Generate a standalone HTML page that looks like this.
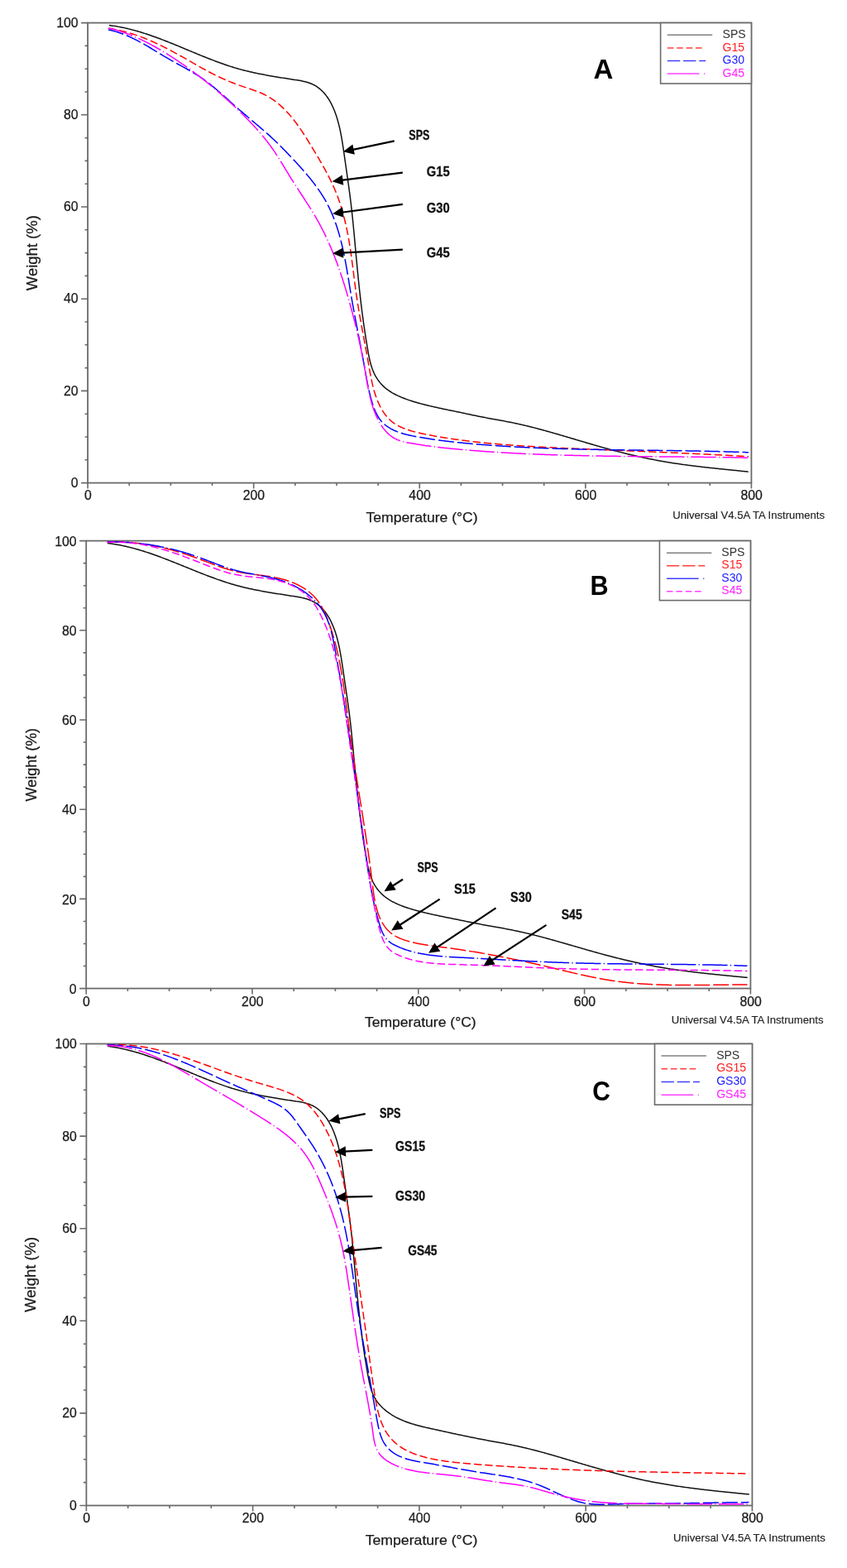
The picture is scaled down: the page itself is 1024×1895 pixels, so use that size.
<!DOCTYPE html>
<html><head><meta charset="utf-8"><title>TGA curves</title><style>
html,body{margin:0;padding:0;background:#fff;}
svg{display:block;}
text{font-family:'Liberation Sans', Arial, sans-serif;fill:#1a1a1a;}
.tl{font-size:15.8px;stroke:#1a1a1a;stroke-width:0.25px;}
.at{font-size:18px;stroke:#1a1a1a;stroke-width:0.25px;}
.tt{font-size:17px;stroke:#1a1a1a;stroke-width:0.25px;}
.ut{font-size:13.1px;fill:#222;stroke:#222;stroke-width:0.15px;}
.lg{font-size:14px;}
.big{font-size:33px;font-weight:bold;fill:#000;}
.an{font-size:16.4px;font-weight:bold;fill:#111;stroke:#111;stroke-width:0.3px;}
</style></head>
<body><svg width="1024" height="1895" viewBox="0 0 1024 1895">
<rect width="1024" height="1895" fill="#fff"/>
<path d="M98.1,583.6H106.1M102.6,555.8H106.1M102.6,528H106.1M102.6,500.2H106.1M98.1,472.4H106.1M102.6,444.6H106.1M102.6,416.8H106.1M102.6,389H106.1M98.1,361.2H106.1M102.6,333.4H106.1M102.6,305.6H106.1M102.6,277.8H106.1M98.1,250H106.1M102.6,222.2H106.1M102.6,194.4H106.1M102.6,166.6H106.1M98.1,138.8H106.1M102.6,111H106.1M102.6,83.2H106.1M102.6,55.4H106.1M98.1,27.6H106.1M106.1,583.6V590.6M156.24,583.6V587.1M206.39,583.6V587.1M256.53,583.6V587.1M306.67,583.6V590.6M356.82,583.6V587.1M406.96,583.6V587.1M457.11,583.6V587.1M507.25,583.6V590.6M557.39,583.6V587.1M607.54,583.6V587.1M657.68,583.6V587.1M707.83,583.6V590.6M757.97,583.6V587.1M808.11,583.6V587.1M858.26,583.6V587.1M908.4,583.6V590.6" stroke="#6a6a6a" stroke-width="1.6" fill="none"/>
<rect x="106.1" y="27.6" width="802.3" height="556" stroke="#6a6a6a" stroke-width="1.8" fill="none"/>
<text x="94.5" y="588.8" text-anchor="end" class="tl">0</text>
<text x="94.5" y="477.6" text-anchor="end" class="tl">20</text>
<text x="94.5" y="366.4" text-anchor="end" class="tl">40</text>
<text x="94.5" y="255.2" text-anchor="end" class="tl">60</text>
<text x="94.5" y="144" text-anchor="end" class="tl">80</text>
<text x="94.5" y="32.8" text-anchor="end" class="tl">100</text>
<text x="106.4" y="604.1" text-anchor="middle" class="tl">0</text>
<text x="306.97" y="604.1" text-anchor="middle" class="tl">200</text>
<text x="507.55" y="604.1" text-anchor="middle" class="tl">400</text>
<text x="708.12" y="604.1" text-anchor="middle" class="tl">600</text>
<text x="908.7" y="604.1" text-anchor="middle" class="tl">800</text>
<text transform="translate(44.8,351.2) rotate(-90)" class="at" textLength="91" lengthAdjust="spacingAndGlyphs">Weight (%)</text>
<text x="442.5" y="630.8" class="tt" textLength="135.2" lengthAdjust="spacingAndGlyphs">Temperature (°C)</text>
<text x="997" y="627" text-anchor="end" class="ut">Universal V4.5A TA Instruments</text>
<path d="M131.84,30.54 133.34,30.73 134.84,30.93 136.33,31.15 137.82,31.37 139.31,31.61 140.79,31.86 142.27,32.12 143.75,32.38 145.23,32.66 146.7,32.95 148.17,33.25 149.63,33.56 151.09,33.88 152.55,34.21 154.01,34.54 155.46,34.89 156.91,35.25 158.36,35.61 159.81,35.98 161.25,36.37 162.69,36.75 164.13,37.15 165.57,37.56 167,37.97 168.43,38.39 169.86,38.82 171.29,39.25 172.71,39.7 174.13,40.15 175.55,40.6 176.97,41.06 178.39,41.53 179.81,42.01 181.22,42.49 182.63,42.97 184.04,43.46 185.45,43.96 186.85,44.46 188.26,44.97 189.66,45.48 191.06,46 192.47,46.52 193.86,47.05 195.26,47.58 196.66,48.11 198.06,48.65 199.45,49.19 200.84,49.74 202.24,50.29 203.63,50.84 205.02,51.39 206.41,51.95 207.8,52.51 209.19,53.07 210.58,53.64 211.96,54.2 213.35,54.77 214.74,55.34 216.12,55.91 217.51,56.48 218.89,57.06 220.28,57.63 221.66,58.21 223.05,58.79 224.43,59.36 225.82,59.94 227.2,60.52 228.58,61.09 229.97,61.67 231.35,62.25 232.74,62.82 234.12,63.4 235.51,63.97 236.9,64.55 238.28,65.12 239.67,65.69 241.06,66.26 242.44,66.82 243.83,67.39 245.22,67.95 246.61,68.51 248,69.07 249.4,69.63 250.79,70.18 252.18,70.73 253.58,71.27 254.97,71.81 256.37,72.35 257.77,72.89 259.17,73.42 260.57,73.95 261.97,74.47 263.37,74.99 264.78,75.5 266.19,76.01 267.59,76.51 269,77.01 270.42,77.51 271.83,77.99 273.24,78.47 274.66,78.95 276.08,79.42 277.5,79.88 278.92,80.34 280.35,80.79 281.77,81.24 283.2,81.67 284.64,82.1 286.07,82.53 287.5,82.94 288.94,83.35 290.38,83.75 291.83,84.14 293.27,84.52 294.72,84.9 296.17,85.27 297.62,85.63 299.08,85.99 300.53,86.34 301.99,86.68 303.45,87.02 304.91,87.35 306.37,87.67 307.83,87.99 309.3,88.3 310.76,88.61 312.23,88.91 313.69,89.21 315.16,89.5 316.63,89.79 318.1,90.07 319.57,90.35 321.04,90.63 322.51,90.9 323.98,91.16 325.45,91.43 326.92,91.69 328.39,91.94 329.86,92.19 331.33,92.44 332.8,92.69 334.27,92.94 335.74,93.18 337.21,93.42 338.67,93.66 340.14,93.89 341.61,94.12 343.07,94.36 344.53,94.59 346,94.82 347.46,95.05 348.92,95.27 350.37,95.5 351.83,95.73 353.28,95.95 354.73,96.18 356.19,96.41 357.63,96.63 359.08,96.86 360.52,97.09 361.96,97.34 363.39,97.59 364.82,97.86 366.23,98.15 367.64,98.46 369.04,98.8 370.43,99.17 371.81,99.57 373.17,100.01 374.51,100.48 375.84,100.99 377.15,101.54 378.44,102.13 379.71,102.76 380.96,103.45 382.18,104.18 383.37,104.96 384.54,105.78 385.69,106.65 386.81,107.56 387.9,108.5 388.97,109.49 390,110.51 391.02,111.56 392,112.65 392.95,113.77 393.88,114.91 394.77,116.08 395.64,117.27 396.47,118.49 397.28,119.72 398.06,120.98 398.82,122.25 399.55,123.55 400.25,124.85 400.93,126.17 401.58,127.51 402.21,128.85 402.82,130.21 403.41,131.57 403.98,132.94 404.52,134.31 405.05,135.69 405.56,137.08 406.05,138.46 406.52,139.86 406.98,141.25 407.42,142.65 407.84,144.05 408.26,145.46 408.65,146.87 409.04,148.28 409.41,149.7 409.76,151.12 410.11,152.54 410.45,153.97 410.77,155.4 411.09,156.83 411.39,158.27 411.69,159.71 411.98,161.15 412.26,162.59 412.53,164.03 412.79,165.47 413.05,166.92 413.3,168.36 413.55,169.81 413.79,171.26 414.02,172.7 414.25,174.15 414.47,175.59 414.7,177.04 414.91,178.48 415.13,179.92 415.34,181.37 415.55,182.81 415.76,184.25 415.97,185.68 416.17,187.12 416.38,188.56 416.58,190 416.79,191.43 416.99,192.87 417.2,194.31 417.4,195.75 417.61,197.19 417.81,198.63 418.02,200.07 418.22,201.52 418.43,202.97 418.63,204.42 418.84,205.87 419.05,207.32 419.26,208.78 419.47,210.24 419.67,211.7 419.88,213.17 420.09,214.64 420.3,216.11 420.51,217.58 420.72,219.05 420.93,220.52 421.13,222 421.34,223.48 421.55,224.96 421.75,226.44 421.95,227.92 422.16,229.4 422.36,230.89 422.56,232.37 422.75,233.86 422.95,235.34 423.14,236.83 423.34,238.32 423.52,239.8 423.71,241.29 423.9,242.78 424.08,244.26 424.26,245.75 424.43,247.24 424.61,248.73 424.78,250.21 424.95,251.7 425.12,253.19 425.28,254.67 425.45,256.16 425.61,257.65 425.77,259.13 425.93,260.62 426.08,262.11 426.24,263.59 426.39,265.08 426.54,266.57 426.69,268.06 426.84,269.54 426.99,271.03 427.13,272.52 427.28,274 427.42,275.49 427.57,276.98 427.71,278.47 427.85,279.95 427.99,281.44 428.13,282.93 428.27,284.42 428.41,285.9 428.54,287.39 428.68,288.88 428.82,290.37 428.95,291.86 429.09,293.35 429.23,294.83 429.36,296.32 429.5,297.81 429.63,299.3 429.77,300.79 429.91,302.28 430.04,303.77 430.18,305.26 430.32,306.75 430.45,308.24 430.59,309.73 430.73,311.22 430.87,312.71 431.01,314.2 431.15,315.69 431.29,317.18 431.43,318.68 431.57,320.17 431.71,321.66 431.86,323.15 432,324.64 432.14,326.13 432.29,327.62 432.43,329.11 432.58,330.6 432.73,332.09 432.88,333.58 433.03,335.08 433.18,336.57 433.33,338.06 433.48,339.55 433.63,341.04 433.79,342.53 433.94,344.02 434.1,345.51 434.26,347 434.42,348.49 434.58,349.97 434.74,351.46 434.9,352.95 435.06,354.44 435.23,355.93 435.4,357.42 435.57,358.91 435.74,360.39 435.91,361.88 436.08,363.37 436.26,364.85 436.43,366.34 436.61,367.83 436.79,369.31 436.97,370.8 437.16,372.28 437.34,373.77 437.53,375.25 437.72,376.73 437.91,378.22 438.1,379.7 438.29,381.18 438.49,382.66 438.69,384.15 438.89,385.63 439.09,387.11 439.3,388.59 439.5,390.07 439.71,391.54 439.92,393.02 440.14,394.5 440.35,395.98 440.57,397.46 440.79,398.93 441.01,400.41 441.24,401.89 441.46,403.37 441.69,404.84 441.92,406.32 442.16,407.8 442.39,409.28 442.63,410.76 442.87,412.24 443.11,413.73 443.35,415.21 443.6,416.69 443.84,418.18 444.09,419.67 444.35,421.16 444.6,422.65 444.86,424.14 445.12,425.63 445.39,427.12 445.66,428.61 445.95,430.09 446.24,431.58 446.55,433.06 446.88,434.53 447.22,436 447.58,437.46 447.96,438.91 448.35,440.35 448.78,441.79 449.22,443.21 449.69,444.62 450.19,446.02 450.72,447.41 451.28,448.78 451.87,450.14 452.49,451.48 453.15,452.81 453.83,454.11 454.55,455.4 455.31,456.66 456.09,457.9 456.92,459.12 457.77,460.31 458.66,461.48 459.59,462.61 460.55,463.73 461.55,464.81 462.57,465.86 463.64,466.88 464.73,467.88 465.85,468.85 467,469.79 468.18,470.69 469.38,471.58 470.6,472.43 471.85,473.25 473.13,474.05 474.42,474.82 475.73,475.56 477.05,476.28 478.4,476.98 479.76,477.66 481.13,478.31 482.51,478.94 483.9,479.55 485.3,480.15 486.71,480.72 488.13,481.28 489.55,481.82 490.97,482.35 492.39,482.86 493.82,483.36 495.25,483.85 496.69,484.32 498.12,484.78 499.56,485.23 501,485.66 502.44,486.09 503.88,486.51 505.32,486.92 506.76,487.32 508.21,487.71 509.65,488.1 511.1,488.47 512.54,488.85 513.99,489.21 515.44,489.57 516.88,489.93 518.33,490.28 519.78,490.62 521.22,490.96 522.67,491.3 524.12,491.63 525.56,491.95 527.01,492.28 528.46,492.6 529.91,492.91 531.35,493.23 532.8,493.54 534.25,493.85 535.7,494.15 537.14,494.46 538.59,494.76 540.04,495.06 541.48,495.36 542.93,495.66 544.38,495.95 545.82,496.25 547.27,496.55 548.71,496.84 550.16,497.14 551.6,497.44 553.05,497.74 554.49,498.04 555.93,498.34 557.37,498.64 558.82,498.94 560.26,499.25 561.7,499.56 563.14,499.86 564.58,500.17 566.02,500.48 567.46,500.79 568.9,501.09 570.34,501.4 571.77,501.7 573.21,502 574.65,502.3 576.09,502.6 577.53,502.9 578.96,503.19 580.4,503.48 581.84,503.77 583.28,504.05 584.72,504.33 586.16,504.61 587.61,504.88 589.05,505.15 590.49,505.42 591.94,505.69 593.38,505.95 594.83,506.22 596.27,506.48 597.72,506.74 599.17,507 600.62,507.27 602.07,507.53 603.52,507.79 604.97,508.05 606.42,508.32 607.88,508.59 609.33,508.86 610.79,509.13 612.24,509.4 613.69,509.68 615.15,509.96 616.6,510.25 618.06,510.53 619.51,510.83 620.96,511.13 622.41,511.43 623.86,511.74 625.31,512.05 626.77,512.37 628.21,512.7 629.66,513.02 631.11,513.36 632.56,513.69 634.01,514.03 635.45,514.38 636.9,514.72 638.35,515.08 639.79,515.43 641.24,515.79 642.68,516.16 644.13,516.52 645.57,516.89 647.01,517.27 648.46,517.64 649.9,518.02 651.34,518.41 652.78,518.79 654.23,519.18 655.67,519.57 657.11,519.96 658.55,520.36 659.99,520.76 661.43,521.16 662.87,521.56 664.31,521.96 665.75,522.37 667.19,522.78 668.63,523.19 670.06,523.6 671.5,524.01 672.94,524.43 674.37,524.84 675.81,525.26 677.24,525.68 678.68,526.1 680.11,526.52 681.55,526.94 682.98,527.36 684.41,527.79 685.84,528.21 687.28,528.63 688.71,529.06 690.14,529.48 691.57,529.91 693,530.33 694.42,530.76 695.85,531.18 697.28,531.61 698.71,532.03 700.13,532.46 701.56,532.88 702.98,533.3 704.41,533.72 705.83,534.15 707.25,534.57 708.68,534.99 710.1,535.41 711.52,535.83 712.95,536.24 714.37,536.66 715.79,537.07 717.21,537.49 718.63,537.9 720.06,538.31 721.48,538.72 722.9,539.13 724.33,539.54 725.75,539.94 727.17,540.35 728.6,540.75 730.02,541.15 731.45,541.54 732.87,541.94 734.3,542.33 735.73,542.72 737.16,543.11 738.58,543.5 740.01,543.88 741.44,544.27 742.88,544.65 744.31,545.02 745.74,545.4 747.18,545.77 748.61,546.14 750.05,546.5 751.48,546.87 752.92,547.23 754.36,547.59 755.8,547.94 757.24,548.3 758.68,548.65 760.13,548.99 761.57,549.34 763.01,549.68 764.46,550.02 765.91,550.35 767.35,550.69 768.8,551.02 770.25,551.34 771.7,551.67 773.15,551.99 774.6,552.31 776.05,552.62 777.51,552.94 778.96,553.24 780.42,553.55 781.87,553.85 783.33,554.15 784.79,554.45 786.24,554.74 787.7,555.03 789.16,555.32 790.62,555.6 792.09,555.88 793.55,556.16 795.01,556.44 796.48,556.71 797.94,556.97 799.41,557.24 800.87,557.5 802.34,557.76 803.81,558.01 805.28,558.26 806.75,558.51 808.22,558.75 809.69,558.99 811.16,559.23 812.64,559.46 814.11,559.69 815.58,559.92 817.06,560.14 818.53,560.36 820.01,560.58 821.49,560.79 822.97,561 824.44,561.21 825.92,561.42 827.4,561.62 828.88,561.82 830.36,562.02 831.84,562.21 833.33,562.41 834.81,562.6 836.29,562.79 837.77,562.97 839.26,563.16 840.74,563.34 842.22,563.52 843.71,563.7 845.19,563.87 846.68,564.05 848.17,564.22 849.65,564.39 851.14,564.56 852.62,564.73 854.11,564.9 855.6,565.06 857.09,565.23 858.57,565.39 860.06,565.55 861.55,565.71 863.04,565.87 864.53,566.03 866.01,566.18 867.5,566.34 868.99,566.49 870.48,566.65 871.97,566.8 873.46,566.96 874.95,567.11 876.43,567.26 877.92,567.41 879.41,567.56 880.9,567.72 882.39,567.87 883.88,568.02 885.37,568.17 886.86,568.32 888.34,568.47 889.83,568.62 891.32,568.77 892.81,568.92 894.29,569.07 895.78,569.23 897.27,569.38 898.76,569.53 900.24,569.69 901.73,569.84 903.21,569.99 904.7,570.15" stroke="#111" stroke-width="1.5" fill="none"/>
<path d="M130.88,34.37 132.38,34.58 133.88,34.8 135.37,35.03 136.86,35.28 138.34,35.54 139.82,35.81 141.29,36.1 142.76,36.4 144.23,36.72 145.69,37.04 147.15,37.38 148.6,37.74 150.05,38.1 151.5,38.48 152.94,38.86 154.38,39.26 155.82,39.67 157.25,40.1 158.68,40.53 160.11,40.97 161.53,41.43 162.95,41.89 164.36,42.37 165.77,42.86 167.18,43.35 168.59,43.86 169.99,44.37 171.39,44.9 172.78,45.43 174.18,45.97 175.56,46.53 176.95,47.09 178.33,47.65 179.71,48.23 181.09,48.82 182.46,49.41 183.84,50.01 185.2,50.62 186.57,51.23 187.93,51.86 189.29,52.49 190.65,53.12 192,53.77 193.36,54.42 194.71,55.07 196.05,55.73 197.4,56.4 198.74,57.08 200.08,57.75 201.42,58.44 202.75,59.13 204.08,59.82 205.41,60.52 206.74,61.22 208.07,61.93 209.39,62.64 210.71,63.36 212.03,64.08 213.35,64.8 214.66,65.53 215.98,66.26 217.29,66.99 218.6,67.73 219.91,68.46 221.21,69.2 222.52,69.95 223.83,70.69 225.13,71.43 226.43,72.18 227.74,72.92 229.04,73.67 230.34,74.42 231.64,75.16 232.94,75.91 234.25,76.65 235.55,77.4 236.85,78.14 238.16,78.88 239.46,79.62 240.77,80.35 242.07,81.08 243.38,81.81 244.69,82.54 246,83.27 247.31,83.99 248.63,84.7 249.94,85.41 251.26,86.12 252.59,86.82 253.91,87.52 255.24,88.21 256.56,88.89 257.9,89.57 259.23,90.25 260.57,90.91 261.91,91.57 263.26,92.22 264.61,92.87 265.96,93.51 267.32,94.14 268.68,94.76 270.04,95.37 271.41,95.98 272.78,96.58 274.15,97.17 275.53,97.76 276.92,98.34 278.3,98.9 279.69,99.47 281.09,100.02 282.49,100.56 283.89,101.1 285.3,101.63 286.71,102.15 288.13,102.66 289.55,103.16 290.97,103.66 292.4,104.15 293.83,104.63 295.26,105.11 296.69,105.59 298.13,106.06 299.56,106.54 300.99,107.01 302.42,107.5 303.84,107.98 305.26,108.47 306.68,108.97 308.09,109.48 309.5,109.99 310.89,110.52 312.28,111.07 313.66,111.62 315.03,112.2 316.4,112.79 317.74,113.4 319.08,114.02 320.41,114.68 321.72,115.35 323.01,116.05 324.29,116.77 325.56,117.52 326.81,118.29 328.05,119.08 329.27,119.9 330.48,120.74 331.68,121.59 332.86,122.47 334.03,123.37 335.18,124.28 336.33,125.22 337.45,126.17 338.57,127.13 339.67,128.12 340.76,129.12 341.84,130.13 342.9,131.16 343.96,132.21 345,133.26 346.02,134.33 347.04,135.41 348.05,136.51 349.04,137.62 350.03,138.74 351,139.87 351.96,141.01 352.92,142.16 353.86,143.32 354.8,144.5 355.72,145.68 356.64,146.87 357.55,148.07 358.45,149.28 359.34,150.49 360.23,151.72 361.11,152.95 361.98,154.18 362.84,155.43 363.7,156.68 364.55,157.93 365.39,159.2 366.23,160.46 367.06,161.73 367.89,163.01 368.71,164.29 369.53,165.57 370.34,166.85 371.15,168.14 371.95,169.43 372.76,170.73 373.55,172.02 374.35,173.31 375.14,174.61 375.93,175.91 376.72,177.2 377.5,178.5 378.28,179.8 379.06,181.09 379.84,182.38 380.62,183.68 381.4,184.97 382.17,186.26 382.94,187.55 383.71,188.84 384.47,190.13 385.24,191.42 386,192.72 386.75,194.01 387.5,195.3 388.25,196.6 388.99,197.89 389.73,199.19 390.47,200.48 391.2,201.78 391.92,203.08 392.64,204.38 393.35,205.69 394.06,206.99 394.76,208.3 395.46,209.61 396.15,210.93 396.84,212.24 397.51,213.56 398.18,214.88 398.85,216.21 399.5,217.54 400.15,218.87 400.79,220.21 401.43,221.55 402.05,222.89 402.67,224.24 403.28,225.59 403.88,226.95 404.47,228.31 405.05,229.68 405.62,231.05 406.18,232.43 406.74,233.81 407.28,235.2 407.81,236.59 408.34,237.99 408.85,239.39 409.36,240.8 409.86,242.22 410.34,243.63 410.82,245.05 411.29,246.48 411.75,247.91 412.2,249.34 412.65,250.78 413.08,252.22 413.51,253.66 413.93,255.11 414.34,256.56 414.74,258.01 415.14,259.47 415.52,260.93 415.9,262.39 416.27,263.85 416.64,265.31 417,266.78 417.35,268.25 417.69,269.72 418.02,271.19 418.35,272.66 418.67,274.14 418.99,275.61 419.3,277.09 419.6,278.57 419.9,280.04 420.19,281.52 420.47,283 420.75,284.48 421.02,285.96 421.29,287.44 421.55,288.92 421.81,290.41 422.06,291.89 422.3,293.37 422.55,294.85 422.79,296.34 423.02,297.82 423.25,299.31 423.48,300.79 423.7,302.28 423.92,303.76 424.13,305.25 424.35,306.73 424.56,308.22 424.76,309.7 424.97,311.19 425.17,312.68 425.37,314.16 425.57,315.65 425.76,317.14 425.96,318.62 426.15,320.11 426.34,321.6 426.53,323.08 426.72,324.57 426.91,326.06 427.1,327.54 427.28,329.03 427.47,330.51 427.66,332 427.84,333.48 428.03,334.97 428.22,336.45 428.41,337.94 428.6,339.42 428.78,340.91 428.98,342.39 429.17,343.87 429.36,345.35 429.56,346.83 429.75,348.32 429.95,349.8 430.15,351.28 430.36,352.76 430.56,354.23 430.77,355.71 430.98,357.19 431.2,358.67 431.42,360.14 431.64,361.62 431.86,363.09 432.09,364.57 432.32,366.04 432.55,367.51 432.79,368.99 433.02,370.46 433.27,371.93 433.51,373.4 433.75,374.87 434,376.34 434.25,377.81 434.51,379.28 434.76,380.75 435.02,382.22 435.27,383.69 435.53,385.16 435.8,386.62 436.06,388.09 436.32,389.56 436.59,391.03 436.86,392.5 437.13,393.97 437.4,395.44 437.67,396.91 437.94,398.38 438.21,399.85 438.48,401.32 438.76,402.79 439.03,404.26 439.31,405.73 439.58,407.2 439.86,408.68 440.14,410.15 440.41,411.62 440.69,413.1 440.96,414.57 441.24,416.05 441.51,417.52 441.79,419 442.06,420.48 442.34,421.96 442.61,423.44 442.88,424.92 443.16,426.4 443.43,427.88 443.7,429.37 443.97,430.85 444.24,432.34 444.5,433.83 444.77,435.32 445.03,436.81 445.29,438.3 445.55,439.79 445.81,441.28 446.07,442.78 446.33,444.27 446.59,445.77 446.86,447.26 447.12,448.76 447.39,450.25 447.67,451.75 447.95,453.24 448.23,454.73 448.52,456.22 448.82,457.71 449.13,459.19 449.44,460.68 449.76,462.16 450.1,463.64 450.44,465.11 450.8,466.58 451.17,468.05 451.55,469.52 451.95,470.98 452.36,472.43 452.79,473.88 453.23,475.33 453.69,476.77 454.17,478.21 454.66,479.63 455.18,481.06 455.71,482.47 456.27,483.88 456.84,485.28 457.44,486.67 458.05,488.04 458.69,489.4 459.36,490.75 460.04,492.08 460.75,493.39 461.48,494.68 462.24,495.95 463.02,497.2 463.82,498.43 464.65,499.64 465.51,500.82 466.39,501.97 467.31,503.1 468.24,504.19 469.21,505.26 470.21,506.29 471.23,507.29 472.28,508.26 473.37,509.19 474.48,510.08 475.62,510.94 476.79,511.77 477.99,512.55 479.22,513.31 480.46,514.04 481.74,514.73 483.03,515.4 484.35,516.03 485.68,516.64 487.04,517.23 488.41,517.78 489.79,518.32 491.2,518.83 492.61,519.33 494.04,519.8 495.48,520.25 496.93,520.68 498.39,521.1 499.86,521.51 501.33,521.89 502.81,522.27 504.3,522.63 505.78,522.99 507.27,523.33 508.76,523.66 510.25,523.99 511.74,524.31 513.23,524.62 514.72,524.92 516.21,525.22 517.7,525.51 519.19,525.8 520.68,526.08 522.17,526.36 523.66,526.63 525.15,526.89 526.64,527.16 528.13,527.42 529.62,527.67 531.11,527.93 532.6,528.18 534.09,528.42 535.58,528.67 537.07,528.91 538.56,529.14 540.05,529.38 541.54,529.61 543.03,529.83 544.52,530.06 546.01,530.28 547.5,530.5 548.99,530.71 550.48,530.93 551.97,531.14 553.46,531.34 554.95,531.55 556.44,531.75 557.93,531.95 559.42,532.15 560.91,532.34 562.4,532.53 563.89,532.72 565.39,532.9 566.88,533.08 568.37,533.26 569.86,533.44 571.35,533.62 572.84,533.79 574.33,533.96 575.82,534.13 577.31,534.29 578.8,534.46 580.29,534.62 581.78,534.77 583.28,534.93 584.77,535.08 586.26,535.24 587.75,535.38 589.24,535.53 590.73,535.68 592.22,535.82 593.71,535.96 595.2,536.1 596.7,536.23 598.19,536.37 599.68,536.5 601.17,536.63 602.66,536.76 604.15,536.89 605.65,537.01 607.14,537.14 608.63,537.26 610.12,537.38 611.61,537.49 613.1,537.61 614.6,537.72 616.09,537.84 617.58,537.95 619.07,538.06 620.57,538.17 622.06,538.27 623.55,538.38 625.04,538.48 626.54,538.58 628.03,538.68 629.52,538.78 631.01,538.88 632.51,538.97 634,539.07 635.49,539.16 636.99,539.25 638.48,539.34 639.97,539.43 641.46,539.52 642.96,539.61 644.45,539.7 645.94,539.78 647.44,539.87 648.93,539.95 650.43,540.03 651.92,540.11 653.41,540.19 654.91,540.27 656.4,540.35 657.89,540.43 659.39,540.5 660.88,540.58 662.38,540.65 663.87,540.73 665.37,540.8 666.86,540.87 668.36,540.94 669.85,541.01 671.35,541.08 672.84,541.15 674.34,541.22 675.83,541.29 677.33,541.36 678.82,541.43 680.32,541.5 681.81,541.56 683.31,541.63 684.8,541.7 686.3,541.76 687.79,541.83 689.29,541.89 690.79,541.96 692.28,542.02 693.78,542.09 695.28,542.15 696.77,542.21 698.27,542.28 699.77,542.34 701.26,542.4 702.76,542.47 704.26,542.53 705.75,542.6 707.25,542.66 708.75,542.72 710.25,542.79 711.74,542.85 713.24,542.91 714.74,542.97 716.24,543.04 717.73,543.1 719.23,543.16 720.73,543.23 722.23,543.29 723.73,543.35 725.22,543.41 726.72,543.48 728.22,543.54 729.72,543.6 731.22,543.66 732.72,543.73 734.21,543.79 735.71,543.85 737.21,543.91 738.71,543.98 740.21,544.04 741.71,544.1 743.21,544.16 744.71,544.22 746.2,544.29 747.7,544.35 749.2,544.41 750.7,544.47 752.2,544.54 753.7,544.6 755.2,544.66 756.7,544.72 758.2,544.79 759.7,544.85 761.2,544.91 762.7,544.97 764.2,545.04 765.69,545.1 767.19,545.16 768.69,545.23 770.19,545.29 771.69,545.35 773.19,545.42 774.69,545.48 776.19,545.54 777.69,545.61 779.19,545.67 780.69,545.73 782.19,545.8 783.69,545.86 785.19,545.92 786.69,545.99 788.19,546.05 789.69,546.12 791.18,546.18 792.68,546.25 794.18,546.31 795.68,546.38 797.18,546.44 798.68,546.51 800.18,546.57 801.68,546.64 803.18,546.7 804.68,546.77 806.18,546.83 807.68,546.9 809.18,546.97 810.67,547.03 812.17,547.1 813.67,547.16 815.17,547.23 816.67,547.3 818.17,547.37 819.67,547.43 821.17,547.5 822.66,547.57 824.16,547.64 825.66,547.71 827.16,547.77 828.66,547.84 830.16,547.91 831.66,547.98 833.15,548.05 834.65,548.12 836.15,548.19 837.65,548.26 839.15,548.33 840.64,548.4 842.14,548.47 843.64,548.54 845.14,548.61 846.63,548.68 848.13,548.76 849.63,548.83 851.13,548.9 852.62,548.97 854.12,549.05 855.62,549.12 857.11,549.19 858.61,549.27 860.11,549.34 861.6,549.42 863.1,549.49 864.6,549.56 866.09,549.64 867.59,549.72 869.08,549.79 870.58,549.87 872.08,549.94 873.57,550.02 875.07,550.1 876.56,550.18 878.06,550.25 879.55,550.33 881.05,550.41 882.54,550.49 884.04,550.57 885.53,550.65 887.02,550.73 888.52,550.81 890.01,550.89 891.51,550.97 893,551.05 894.49,551.13 895.99,551.22 897.48,551.3 898.97,551.38 900.47,551.46 901.96,551.55 903.45,551.63 904.95,551.72" stroke="#ff0000" stroke-width="1.5" fill="none" stroke-dasharray="9.4 3.9"/>
<path d="M130.96,35.93 132.45,36.24 133.92,36.58 135.39,36.93 136.85,37.3 138.3,37.7 139.74,38.11 141.17,38.54 142.6,38.99 144.02,39.46 145.43,39.94 146.83,40.44 148.23,40.96 149.62,41.49 151,42.04 152.38,42.6 153.75,43.18 155.12,43.77 156.48,44.38 157.83,44.99 159.18,45.62 160.52,46.27 161.86,46.92 163.2,47.58 164.53,48.26 165.85,48.94 167.18,49.63 168.49,50.34 169.81,51.05 171.12,51.77 172.43,52.49 173.73,53.23 175.04,53.97 176.34,54.71 177.64,55.46 178.93,56.22 180.23,56.98 181.52,57.74 182.81,58.51 184.1,59.28 185.39,60.06 186.68,60.83 187.97,61.61 189.26,62.39 190.55,63.17 191.83,63.95 193.12,64.73 194.41,65.51 195.7,66.29 196.99,67.06 198.28,67.83 199.58,68.6 200.87,69.37 202.17,70.13 203.47,70.89 204.77,71.65 206.08,72.4 207.38,73.14 208.69,73.88 210,74.61 211.32,75.34 212.63,76.07 213.95,76.79 215.26,77.51 216.58,78.23 217.89,78.95 219.21,79.67 220.52,80.39 221.83,81.11 223.15,81.83 224.45,82.56 225.76,83.28 227.06,84.02 228.36,84.75 229.66,85.49 230.95,86.24 232.24,86.99 233.52,87.75 234.8,88.52 236.07,89.29 237.34,90.07 238.59,90.87 239.85,91.67 241.09,92.48 242.33,93.31 243.56,94.14 244.78,94.99 246,95.84 247.21,96.71 248.41,97.59 249.61,98.48 250.8,99.37 251.98,100.28 253.16,101.19 254.33,102.11 255.5,103.04 256.66,103.98 257.82,104.92 258.98,105.87 260.13,106.83 261.27,107.79 262.42,108.76 263.55,109.73 264.69,110.71 265.82,111.69 266.96,112.68 268.08,113.67 269.21,114.66 270.33,115.66 271.46,116.66 272.58,117.66 273.7,118.67 274.82,119.67 275.94,120.68 277.06,121.68 278.18,122.69 279.3,123.7 280.42,124.71 281.54,125.71 282.66,126.72 283.78,127.72 284.9,128.73 286.03,129.73 287.16,130.72 288.29,131.72 289.42,132.71 290.55,133.7 291.69,134.69 292.83,135.67 293.97,136.65 295.11,137.63 296.26,138.6 297.4,139.58 298.55,140.55 299.7,141.52 300.85,142.49 301.99,143.45 303.14,144.42 304.29,145.39 305.44,146.35 306.59,147.32 307.73,148.28 308.88,149.25 310.02,150.22 311.17,151.18 312.31,152.15 313.45,153.12 314.59,154.09 315.72,155.06 316.86,156.04 317.99,157.01 319.11,157.99 320.24,158.97 321.36,159.96 322.48,160.94 323.59,161.93 324.7,162.93 325.8,163.92 326.91,164.92 328,165.93 329.09,166.94 330.18,167.95 331.26,168.97 332.34,169.99 333.41,171.02 334.48,172.05 335.55,173.08 336.61,174.12 337.67,175.16 338.73,176.21 339.78,177.25 340.83,178.31 341.87,179.36 342.92,180.42 343.96,181.49 345,182.55 346.04,183.63 347.07,184.7 348.11,185.78 349.14,186.86 350.17,187.94 351.2,189.03 352.23,190.12 353.26,191.21 354.28,192.31 355.31,193.41 356.34,194.51 357.36,195.61 358.38,196.72 359.41,197.83 360.43,198.95 361.44,200.07 362.46,201.19 363.47,202.31 364.48,203.44 365.49,204.58 366.49,205.71 367.49,206.85 368.48,208 369.47,209.15 370.45,210.3 371.43,211.46 372.4,212.62 373.37,213.78 374.33,214.95 375.28,216.13 376.23,217.31 377.17,218.49 378.1,219.68 379.03,220.87 379.94,222.07 380.85,223.27 381.75,224.48 382.64,225.7 383.52,226.92 384.39,228.14 385.25,229.37 386.1,230.61 386.94,231.85 387.77,233.09 388.58,234.35 389.39,235.6 390.18,236.87 390.97,238.14 391.74,239.41 392.49,240.7 393.24,241.98 393.97,243.28 394.68,244.58 395.39,245.89 396.08,247.2 396.75,248.52 397.42,249.84 398.07,251.18 398.71,252.51 399.34,253.85 399.95,255.2 400.55,256.56 401.15,257.91 401.73,259.28 402.29,260.65 402.85,262.02 403.4,263.4 403.94,264.78 404.46,266.17 404.98,267.56 405.48,268.96 405.98,270.36 406.47,271.77 406.94,273.18 407.41,274.59 407.87,276.01 408.32,277.43 408.76,278.86 409.19,280.29 409.61,281.72 410.03,283.16 410.44,284.6 410.83,286.04 411.23,287.49 411.61,288.94 411.99,290.39 412.36,291.85 412.72,293.31 413.08,294.77 413.43,296.23 413.77,297.7 414.11,299.16 414.44,300.63 414.77,302.11 415.09,303.58 415.4,305.06 415.71,306.54 416.02,308.02 416.32,309.5 416.61,310.98 416.91,312.47 417.19,313.96 417.48,315.44 417.76,316.93 418.03,318.42 418.3,319.91 418.57,321.4 418.84,322.9 419.1,324.39 419.36,325.88 419.62,327.38 419.88,328.87 420.13,330.37 420.38,331.86 420.63,333.36 420.88,334.85 421.13,336.35 421.38,337.84 421.62,339.34 421.87,340.83 422.11,342.32 422.35,343.81 422.6,345.31 422.84,346.8 423.08,348.29 423.33,349.78 423.57,351.26 423.82,352.75 424.06,354.23 424.31,355.72 424.56,357.2 424.81,358.68 425.06,360.16 425.32,361.64 425.57,363.11 425.83,364.58 426.09,366.06 426.35,367.53 426.61,369 426.87,370.46 427.14,371.93 427.41,373.39 427.67,374.86 427.94,376.32 428.21,377.78 428.48,379.24 428.75,380.7 429.03,382.16 429.3,383.62 429.58,385.08 429.85,386.54 430.13,387.99 430.41,389.45 430.69,390.91 430.96,392.36 431.24,393.82 431.52,395.27 431.8,396.73 432.09,398.18 432.37,399.64 432.65,401.09 432.93,402.55 433.21,404.01 433.5,405.46 433.78,406.92 434.06,408.38 434.34,409.83 434.63,411.29 434.91,412.75 435.19,414.21 435.47,415.67 435.75,417.14 436.04,418.6 436.32,420.06 436.6,421.53 436.88,422.99 437.16,424.46 437.44,425.93 437.71,427.4 437.99,428.87 438.27,430.35 438.55,431.82 438.82,433.3 439.1,434.78 439.37,436.26 439.64,437.74 439.91,439.22 440.18,440.71 440.45,442.2 440.72,443.69 440.99,445.18 441.25,446.68 441.52,448.17 441.78,449.67 442.05,451.17 442.32,452.67 442.59,454.18 442.86,455.68 443.13,457.18 443.41,458.69 443.69,460.19 443.97,461.69 444.26,463.2 444.56,464.7 444.86,466.2 445.17,467.7 445.49,469.2 445.82,470.7 446.15,472.19 446.5,473.68 446.85,475.17 447.21,476.66 447.59,478.15 447.97,479.63 448.37,481.1 448.78,482.58 449.21,484.05 449.64,485.51 450.09,486.97 450.56,488.43 451.05,489.88 451.55,491.32 452.07,492.75 452.61,494.16 453.17,495.56 453.75,496.95 454.37,498.31 455,499.65 455.67,500.96 456.36,502.25 457.09,503.5 457.85,504.73 458.64,505.92 459.47,507.07 460.34,508.18 461.24,509.26 462.18,510.29 463.16,511.28 464.17,512.23 465.22,513.15 466.29,514.03 467.41,514.87 468.55,515.68 469.72,516.46 470.91,517.2 472.14,517.92 473.39,518.6 474.67,519.25 475.96,519.88 477.29,520.48 478.63,521.05 479.99,521.6 481.37,522.12 482.77,522.62 484.19,523.1 485.62,523.56 487.07,523.99 488.53,524.41 490,524.81 491.48,525.2 492.98,525.56 494.48,525.92 495.99,526.25 497.5,526.58 499.02,526.89 500.55,527.2 502.07,527.49 503.6,527.78 505.13,528.05 506.66,528.33 508.19,528.59 509.71,528.85 511.24,529.11 512.76,529.36 514.28,529.6 515.79,529.85 517.31,530.08 518.82,530.32 520.33,530.55 521.84,530.77 523.34,530.99 524.85,531.21 526.35,531.42 527.85,531.63 529.35,531.83 530.85,532.04 532.35,532.23 533.84,532.43 535.34,532.62 536.83,532.81 538.32,532.99 539.82,533.17 541.31,533.35 542.79,533.52 544.28,533.7 545.77,533.87 547.26,534.03 548.74,534.19 550.23,534.36 551.71,534.51 553.2,534.67 554.68,534.82 556.17,534.97 557.65,535.12 559.13,535.27 560.62,535.41 562.1,535.56 563.59,535.7 565.07,535.84 566.55,535.97 568.04,536.11 569.52,536.24 571.01,536.38 572.49,536.51 573.98,536.63 575.46,536.76 576.95,536.89 578.44,537.01 579.92,537.13 581.41,537.26 582.9,537.38 584.38,537.49 585.87,537.61 587.36,537.72 588.85,537.84 590.34,537.95 591.82,538.06 593.31,538.17 594.8,538.28 596.29,538.38 597.78,538.49 599.27,538.59 600.76,538.69 602.25,538.79 603.74,538.89 605.23,538.99 606.72,539.09 608.21,539.18 609.71,539.28 611.2,539.37 612.69,539.46 614.18,539.55 615.67,539.64 617.17,539.73 618.66,539.81 620.15,539.9 621.65,539.98 623.14,540.06 624.63,540.15 626.13,540.23 627.62,540.3 629.11,540.38 630.61,540.46 632.1,540.53 633.6,540.61 635.09,540.68 636.59,540.75 638.08,540.82 639.58,540.89 641.07,540.96 642.57,541.03 644.07,541.1 645.56,541.16 647.06,541.23 648.55,541.29 650.05,541.35 651.55,541.41 653.04,541.47 654.54,541.53 656.04,541.59 657.54,541.65 659.03,541.7 660.53,541.76 662.03,541.81 663.53,541.87 665.03,541.92 666.52,541.97 668.02,542.02 669.52,542.07 671.02,542.12 672.52,542.17 674.02,542.22 675.52,542.27 677.02,542.31 678.51,542.36 680.01,542.4 681.51,542.45 683.01,542.49 684.51,542.53 686.01,542.57 687.51,542.61 689.01,542.65 690.51,542.69 692.01,542.73 693.51,542.77 695.01,542.81 696.51,542.84 698.01,542.88 699.52,542.91 701.02,542.95 702.52,542.98 704.02,543.01 705.52,543.05 707.02,543.08 708.52,543.11 710.02,543.14 711.52,543.17 713.02,543.2 714.53,543.23 716.03,543.26 717.53,543.29 719.03,543.32 720.53,543.35 722.03,543.37 723.54,543.4 725.04,543.43 726.54,543.45 728.04,543.48 729.54,543.5 731.04,543.53 732.55,543.55 734.05,543.57 735.55,543.6 737.05,543.62 738.55,543.64 740.06,543.67 741.56,543.69 743.06,543.71 744.56,543.73 746.07,543.75 747.57,543.77 749.07,543.79 750.57,543.82 752.07,543.84 753.58,543.86 755.08,543.88 756.58,543.9 758.08,543.91 759.58,543.93 761.09,543.95 762.59,543.97 764.09,543.99 765.59,544.01 767.1,544.03 768.6,544.05 770.1,544.07 771.6,544.08 773.1,544.1 774.61,544.12 776.11,544.14 777.61,544.16 779.11,544.17 780.61,544.19 782.12,544.21 783.62,544.23 785.12,544.25 786.62,544.26 788.12,544.28 789.62,544.3 791.12,544.32 792.63,544.34 794.13,544.36 795.63,544.37 797.13,544.39 798.63,544.41 800.13,544.43 801.63,544.45 803.13,544.47 804.64,544.49 806.14,544.51 807.64,544.53 809.14,544.55 810.64,544.57 812.14,544.59 813.64,544.61 815.14,544.63 816.64,544.65 818.14,544.67 819.64,544.7 821.14,544.72 822.64,544.74 824.14,544.76 825.64,544.79 827.14,544.81 828.64,544.83 830.14,544.86 831.63,544.88 833.13,544.91 834.63,544.93 836.13,544.96 837.63,544.98 839.13,545.01 840.63,545.04 842.12,545.07 843.62,545.09 845.12,545.12 846.62,545.15 848.12,545.18 849.61,545.21 851.11,545.24 852.61,545.27 854.11,545.3 855.6,545.34 857.1,545.37 858.6,545.4 860.09,545.44 861.59,545.47 863.08,545.51 864.58,545.54 866.08,545.58 867.57,545.62 869.07,545.65 870.56,545.69 872.06,545.73 873.55,545.77 875.05,545.81 876.54,545.85 878.03,545.9 879.53,545.94 881.02,545.98 882.52,546.03 884.01,546.07 885.5,546.12 887,546.16 888.49,546.21 889.98,546.26 891.47,546.31 892.97,546.36 894.46,546.41 895.95,546.46 897.44,546.52 898.93,546.57 900.42,546.62 901.92,546.68 903.41,546.74 904.9,546.79" stroke="#0000ff" stroke-width="1.5" fill="none" stroke-dasharray="19 4"/>
<path d="M131.09,33.91 132.54,34.25 133.98,34.59 135.42,34.96 136.86,35.33 138.29,35.72 139.72,36.12 141.14,36.53 142.57,36.96 143.99,37.39 145.4,37.84 146.81,38.3 148.22,38.78 149.63,39.26 151.03,39.76 152.43,40.26 153.83,40.78 155.22,41.31 156.61,41.85 158,42.39 159.38,42.95 160.77,43.52 162.14,44.1 163.52,44.69 164.89,45.29 166.26,45.9 167.62,46.51 168.98,47.14 170.34,47.78 171.69,48.42 173.05,49.07 174.39,49.73 175.74,50.4 177.08,51.08 178.42,51.76 179.76,52.45 181.09,53.15 182.42,53.86 183.74,54.57 185.07,55.29 186.38,56.02 187.7,56.76 189.01,57.5 190.32,58.24 191.63,59 192.93,59.76 194.23,60.52 195.53,61.29 196.83,62.07 198.12,62.85 199.4,63.63 200.69,64.43 201.97,65.22 203.25,66.02 204.52,66.83 205.79,67.64 207.06,68.45 208.33,69.27 209.59,70.09 210.85,70.91 212.1,71.74 213.36,72.57 214.6,73.4 215.85,74.24 217.09,75.08 218.33,75.92 219.57,76.77 220.8,77.62 222.04,78.48 223.26,79.33 224.49,80.19 225.71,81.06 226.93,81.93 228.14,82.8 229.36,83.67 230.57,84.55 231.77,85.43 232.98,86.31 234.18,87.2 235.38,88.09 236.57,88.99 237.77,89.89 238.96,90.79 240.14,91.69 241.33,92.6 242.51,93.51 243.69,94.42 244.86,95.34 246.04,96.26 247.21,97.19 248.38,98.11 249.54,99.04 250.7,99.98 251.86,100.92 253.02,101.86 254.18,102.8 255.33,103.75 256.48,104.7 257.63,105.65 258.77,106.61 259.91,107.57 261.05,108.54 262.19,109.5 263.33,110.47 264.46,111.45 265.59,112.42 266.72,113.4 267.84,114.39 268.96,115.38 270.09,116.37 271.2,117.36 272.32,118.36 273.43,119.36 274.55,120.36 275.65,121.37 276.76,122.38 277.87,123.39 278.97,124.41 280.07,125.43 281.17,126.45 282.26,127.48 283.36,128.51 284.45,129.54 285.54,130.58 286.63,131.62 287.71,132.66 288.79,133.7 289.88,134.75 290.96,135.81 292.03,136.86 293.11,137.92 294.18,138.99 295.25,140.05 296.31,141.12 297.38,142.19 298.44,143.27 299.49,144.35 300.55,145.44 301.6,146.53 302.64,147.62 303.68,148.71 304.72,149.81 305.75,150.92 306.78,152.02 307.8,153.14 308.82,154.25 309.83,155.37 310.84,156.5 311.84,157.63 312.83,158.76 313.82,159.9 314.8,161.04 315.78,162.19 316.75,163.34 317.71,164.49 318.67,165.65 319.62,166.82 320.56,167.99 321.5,169.16 322.43,170.34 323.35,171.53 324.26,172.71 325.16,173.91 326.06,175.11 326.94,176.31 327.82,177.52 328.69,178.74 329.55,179.96 330.4,181.18 331.25,182.41 332.08,183.64 332.91,184.88 333.73,186.13 334.54,187.37 335.35,188.63 336.15,189.88 336.95,191.14 337.74,192.4 338.53,193.66 339.31,194.93 340.1,196.2 340.87,197.47 341.65,198.74 342.42,200.01 343.2,201.28 343.97,202.56 344.74,203.83 345.51,205.11 346.28,206.39 347.06,207.66 347.83,208.94 348.61,210.21 349.39,211.49 350.17,212.76 350.95,214.03 351.74,215.3 352.54,216.57 353.33,217.84 354.14,219.1 354.94,220.37 355.75,221.63 356.56,222.89 357.37,224.15 358.18,225.41 359,226.67 359.82,227.93 360.63,229.19 361.45,230.45 362.28,231.71 363.1,232.97 363.92,234.23 364.74,235.48 365.56,236.74 366.38,238 367.2,239.26 368.02,240.52 368.84,241.79 369.65,243.05 370.47,244.31 371.28,245.58 372.09,246.85 372.9,248.11 373.7,249.38 374.5,250.66 375.3,251.93 376.09,253.21 376.88,254.48 377.67,255.76 378.45,257.05 379.22,258.33 380,259.62 380.76,260.91 381.52,262.2 382.28,263.5 383.02,264.8 383.77,266.1 384.5,267.41 385.23,268.72 385.95,270.03 386.67,271.35 387.37,272.67 388.08,274 388.77,275.32 389.46,276.65 390.14,277.99 390.82,279.32 391.48,280.66 392.15,282.01 392.8,283.35 393.45,284.7 394.1,286.06 394.74,287.41 395.37,288.77 395.99,290.13 396.61,291.49 397.23,292.86 397.84,294.23 398.44,295.6 399.04,296.97 399.63,298.35 400.22,299.73 400.8,301.11 401.38,302.49 401.95,303.88 402.51,305.27 403.07,306.66 403.63,308.05 404.18,309.45 404.72,310.84 405.26,312.24 405.8,313.64 406.33,315.04 406.86,316.45 407.38,317.85 407.9,319.26 408.41,320.67 408.92,322.08 409.42,323.5 409.92,324.91 410.42,326.33 410.91,327.74 411.4,329.16 411.88,330.58 412.36,332 412.83,333.42 413.3,334.85 413.77,336.27 414.24,337.7 414.7,339.13 415.15,340.55 415.61,341.98 416.06,343.41 416.5,344.84 416.94,346.27 417.38,347.71 417.82,349.14 418.25,350.57 418.68,352.01 419.11,353.44 419.54,354.88 419.96,356.31 420.38,357.75 420.79,359.19 421.2,360.62 421.61,362.06 422.02,363.5 422.43,364.93 422.83,366.37 423.23,367.81 423.63,369.25 424.02,370.68 424.42,372.12 424.81,373.56 425.2,375 425.58,376.43 425.97,377.87 426.35,379.31 426.73,380.75 427.1,382.19 427.48,383.63 427.85,385.07 428.22,386.51 428.59,387.96 428.95,389.4 429.31,390.84 429.67,392.29 430.03,393.73 430.38,395.18 430.73,396.63 431.08,398.07 431.43,399.52 431.77,400.97 432.12,402.42 432.45,403.87 432.79,405.33 433.13,406.78 433.46,408.24 433.79,409.69 434.11,411.15 434.43,412.61 434.76,414.07 435.07,415.54 435.39,417 435.7,418.47 436.01,419.93 436.32,421.4 436.62,422.87 436.93,424.34 437.23,425.82 437.52,427.29 437.82,428.77 438.11,430.25 438.4,431.73 438.68,433.22 438.97,434.7 439.25,436.19 439.52,437.68 439.8,439.17 440.07,440.67 440.34,442.16 440.61,443.66 440.87,445.16 441.13,446.67 441.39,448.17 441.65,449.68 441.9,451.19 442.16,452.7 442.42,454.21 442.67,455.72 442.93,457.23 443.19,458.74 443.45,460.25 443.72,461.76 443.99,463.27 444.26,464.77 444.54,466.28 444.82,467.78 445.11,469.28 445.41,470.78 445.71,472.27 446.03,473.76 446.35,475.25 446.67,476.73 447.01,478.21 447.36,479.68 447.72,481.15 448.09,482.61 448.47,484.07 448.86,485.52 449.27,486.97 449.69,488.41 450.13,489.84 450.57,491.27 451.04,492.68 451.52,494.09 452.02,495.49 452.53,496.88 453.06,498.27 453.61,499.64 454.18,501.01 454.76,502.36 455.37,503.71 456,505.04 456.65,506.37 457.32,507.68 458.01,508.98 458.72,510.27 459.46,511.54 460.23,512.8 461.01,514.04 461.82,515.26 462.66,516.46 463.52,517.64 464.41,518.79 465.33,519.91 466.27,521.01 467.25,522.07 468.25,523.1 469.28,524.1 470.34,525.06 471.43,525.98 472.55,526.87 473.71,527.71 474.89,528.51 476.11,529.26 477.36,529.96 478.65,530.62 479.96,531.23 481.31,531.79 482.69,532.3 484.09,532.78 485.52,533.22 486.97,533.63 488.43,534 489.91,534.35 491.41,534.68 492.91,534.99 494.42,535.28 495.94,535.56 497.45,535.82 498.97,536.09 500.49,536.34 502,536.59 503.52,536.84 505.03,537.08 506.54,537.32 508.05,537.55 509.56,537.78 511.06,538.01 512.57,538.22 514.07,538.44 515.58,538.65 517.08,538.86 518.58,539.06 520.08,539.26 521.59,539.46 523.09,539.65 524.58,539.84 526.08,540.02 527.58,540.2 529.08,540.38 530.57,540.56 532.07,540.73 533.56,540.9 535.06,541.06 536.55,541.22 538.05,541.38 539.54,541.54 541.03,541.7 542.52,541.85 544.02,542 545.51,542.15 547,542.29 548.49,542.44 549.99,542.58 551.48,542.72 552.97,542.86 554.46,542.99 555.95,543.13 557.44,543.26 558.94,543.39 560.43,543.52 561.92,543.65 563.41,543.78 564.9,543.91 566.4,544.03 567.89,544.15 569.38,544.28 570.88,544.4 572.37,544.52 573.86,544.63 575.35,544.75 576.85,544.86 578.34,544.98 579.83,545.09 581.33,545.2 582.82,545.31 584.32,545.42 585.81,545.53 587.3,545.63 588.8,545.74 590.29,545.84 591.79,545.94 593.28,546.04 594.77,546.14 596.27,546.24 597.76,546.34 599.26,546.43 600.75,546.53 602.25,546.62 603.74,546.71 605.24,546.81 606.73,546.9 608.23,546.98 609.72,547.07 611.22,547.16 612.71,547.24 614.21,547.33 615.71,547.41 617.2,547.49 618.7,547.57 620.19,547.65 621.69,547.73 623.18,547.81 624.68,547.89 626.18,547.96 627.67,548.04 629.17,548.11 630.67,548.18 632.16,548.25 633.66,548.32 635.16,548.39 636.65,548.46 638.15,548.53 639.65,548.6 641.14,548.66 642.64,548.73 644.14,548.79 645.63,548.85 647.13,548.91 648.63,548.97 650.13,549.03 651.62,549.09 653.12,549.15 654.62,549.21 656.12,549.27 657.61,549.32 659.11,549.38 660.61,549.43 662.11,549.48 663.61,549.53 665.1,549.58 666.6,549.64 668.1,549.68 669.6,549.73 671.1,549.78 672.59,549.83 674.09,549.87 675.59,549.92 677.09,549.97 678.59,550.01 680.09,550.05 681.59,550.1 683.08,550.14 684.58,550.18 686.08,550.22 687.58,550.26 689.08,550.3 690.58,550.34 692.08,550.37 693.58,550.41 695.07,550.45 696.57,550.48 698.07,550.52 699.57,550.55 701.07,550.59 702.57,550.62 704.07,550.65 705.57,550.69 707.07,550.72 708.57,550.75 710.07,550.78 711.57,550.81 713.07,550.84 714.56,550.87 716.06,550.9 717.56,550.92 719.06,550.95 720.56,550.98 722.06,551 723.56,551.03 725.06,551.05 726.56,551.08 728.06,551.1 729.56,551.13 731.06,551.15 732.56,551.17 734.06,551.2 735.56,551.22 737.06,551.24 738.56,551.26 740.06,551.28 741.56,551.3 743.06,551.33 744.56,551.35 746.06,551.36 747.56,551.38 749.06,551.4 750.56,551.42 752.06,551.44 753.56,551.46 755.06,551.48 756.56,551.49 758.06,551.51 759.56,551.53 761.06,551.54 762.56,551.56 764.06,551.58 765.56,551.59 767.06,551.61 768.56,551.62 770.06,551.64 771.56,551.65 773.06,551.67 774.56,551.68 776.06,551.7 777.56,551.71 779.06,551.73 780.56,551.74 782.06,551.75 783.56,551.77 785.06,551.78 786.56,551.79 788.06,551.81 789.56,551.82 791.06,551.83 792.56,551.85 794.06,551.86 795.56,551.87 797.06,551.89 798.56,551.9 800.06,551.91 801.56,551.92 803.06,551.94 804.56,551.95 806.06,551.96 807.56,551.98 809.06,551.99 810.56,552 812.06,552.01 813.56,552.03 815.06,552.04 816.56,552.05 818.06,552.07 819.56,552.08 821.06,552.09 822.56,552.11 824.06,552.12 825.56,552.13 827.06,552.15 828.56,552.16 830.06,552.18 831.56,552.19 833.06,552.2 834.55,552.22 836.05,552.23 837.55,552.25 839.05,552.26 840.55,552.28 842.05,552.29 843.55,552.31 845.05,552.33 846.55,552.34 848.05,552.36 849.55,552.37 851.05,552.39 852.55,552.41 854.04,552.43 855.54,552.44 857.04,552.46 858.54,552.48 860.04,552.5 861.54,552.52 863.04,552.54 864.54,552.56 866.03,552.58 867.53,552.6 869.03,552.62 870.53,552.64 872.03,552.66 873.53,552.68 875.02,552.71 876.52,552.73 878.02,552.75 879.52,552.78 881.02,552.8 882.52,552.82 884.01,552.85 885.51,552.88 887.01,552.9 888.51,552.93 890,552.95 891.5,552.98 893,553.01 894.5,553.04 896,553.07 897.49,553.1 898.99,553.13 900.49,553.16 901.98,553.19 903.48,553.22 904.98,553.25" stroke="#ff00ff" stroke-width="1.5" fill="none" stroke-dasharray="30.5 3.3 1.2 3.3"/>
<rect x="798.6" y="27.6" width="109.8" height="73.4" fill="#fff" stroke="#6a6a6a" stroke-width="1.6"/>
<path d="M806.8,42.3H861.2" stroke="#555" stroke-width="1.5" stroke-opacity="0.75"/>
<text x="873.6" y="46" class="lg" style="fill:#333">SPS</text>
<path d="M806.8,57.9H849.1" stroke="#ff0000" stroke-width="1.5" stroke-opacity="0.75" stroke-dasharray="7.6 3.8"/>
<text x="873.6" y="61.6" class="lg" style="fill:#ff2020">G15</text>
<path d="M806.8,73.5H853.2" stroke="#0000ff" stroke-width="1.5" stroke-opacity="0.75" stroke-dasharray="15.4 3.8"/>
<text x="873.6" y="77.2" class="lg" style="fill:#2020ff">G30</text>
<path d="M806.8,89.1H852.4" stroke="#ff00ff" stroke-width="1.5" stroke-opacity="0.75" stroke-dasharray="38.7 5.5 1.2 5.5"/>
<text x="873.6" y="92.8" class="lg" style="fill:#ff20ff">G45</text>
<text transform="translate(717.5,95.3) scale(1,1)" class="big" style="font-size:33px">A</text>
<path d="M476.7,170.4L425.67,181.05" stroke="#000" stroke-width="2.2"/><path d="M414.9,183.3L426.36,174.57L428.89,186.71Z" fill="#000"/>
<path d="M486.8,208.6L412.51,217.93" stroke="#000" stroke-width="2.2"/><path d="M401.6,219.3L413.73,211.53L415.27,223.83Z" fill="#000"/>
<path d="M486.8,246.9L412.9,256.75" stroke="#000" stroke-width="2.2"/><path d="M402,258.2L414.07,250.34L415.71,262.63Z" fill="#000"/>
<path d="M486.8,301.7L412.98,305.7" stroke="#000" stroke-width="2.2"/><path d="M402,306.3L414.65,299.4L415.32,311.79Z" fill="#000"/>
<text x="494.3" y="169" class="an" textLength="25.2" lengthAdjust="spacingAndGlyphs">SPS</text>
<text x="515.7" y="212.5" class="an" textLength="27.9" lengthAdjust="spacingAndGlyphs">G15</text>
<text x="515.7" y="256.9" class="an" textLength="27.9" lengthAdjust="spacingAndGlyphs">G30</text>
<text x="515.7" y="310.5" class="an" textLength="27.9" lengthAdjust="spacingAndGlyphs">G45</text>
<path d="M96.2,1194.6H104.2M100.7,1167.55H104.2M100.7,1140.5H104.2M100.7,1113.45H104.2M96.2,1086.4H104.2M100.7,1059.35H104.2M100.7,1032.3H104.2M100.7,1005.25H104.2M96.2,978.2H104.2M100.7,951.15H104.2M100.7,924.1H104.2M100.7,897.05H104.2M96.2,870H104.2M100.7,842.95H104.2M100.7,815.9H104.2M100.7,788.85H104.2M96.2,761.8H104.2M100.7,734.75H104.2M100.7,707.7H104.2M100.7,680.65H104.2M96.2,653.6H104.2M104.2,1194.6V1201.6M154.4,1194.6V1198.1M204.6,1194.6V1198.1M254.8,1194.6V1198.1M305,1194.6V1201.6M355.2,1194.6V1198.1M405.4,1194.6V1198.1M455.6,1194.6V1198.1M505.8,1194.6V1201.6M556,1194.6V1198.1M606.2,1194.6V1198.1M656.4,1194.6V1198.1M706.6,1194.6V1201.6M756.8,1194.6V1198.1M807,1194.6V1198.1M857.2,1194.6V1198.1M907.4,1194.6V1201.6" stroke="#6a6a6a" stroke-width="1.6" fill="none"/>
<rect x="104.2" y="653.6" width="803.2" height="541" stroke="#6a6a6a" stroke-width="1.8" fill="none"/>
<text x="92.6" y="1200.8" text-anchor="end" class="tl">0</text>
<text x="92.6" y="1092.6" text-anchor="end" class="tl">20</text>
<text x="92.6" y="984.4" text-anchor="end" class="tl">40</text>
<text x="92.6" y="876.2" text-anchor="end" class="tl">60</text>
<text x="92.6" y="768" text-anchor="end" class="tl">80</text>
<text x="92.6" y="659.8" text-anchor="end" class="tl">100</text>
<text x="104.5" y="1215.9" text-anchor="middle" class="tl">0</text>
<text x="305.3" y="1215.9" text-anchor="middle" class="tl">200</text>
<text x="506.1" y="1215.9" text-anchor="middle" class="tl">400</text>
<text x="706.9" y="1215.9" text-anchor="middle" class="tl">600</text>
<text x="907.7" y="1215.9" text-anchor="middle" class="tl">800</text>
<text transform="translate(43.7,968.4) rotate(-90)" class="at" textLength="88.5" lengthAdjust="spacingAndGlyphs">Weight (%)</text>
<text x="440.9" y="1240.8" class="tt" textLength="134.8" lengthAdjust="spacingAndGlyphs">Temperature (°C)</text>
<text x="995.5" y="1236.6" text-anchor="end" class="ut">Universal V4.5A TA Instruments</text>
<path d="M129.97,656.49 131.47,656.67 132.97,656.86 134.46,657.07 135.95,657.28 137.44,657.51 138.93,657.75 140.41,658 141.89,658.25 143.37,658.52 144.84,658.8 146.31,659.09 147.78,659.39 149.24,659.7 150.7,660.02 152.16,660.34 153.62,660.68 155.07,661.02 156.53,661.38 157.97,661.74 159.42,662.11 160.87,662.49 162.31,662.88 163.75,663.27 165.18,663.67 166.62,664.08 168.05,664.5 169.48,664.92 170.91,665.35 172.34,665.79 173.76,666.24 175.19,666.69 176.61,667.15 178.03,667.61 179.44,668.08 180.86,668.55 182.28,669.03 183.69,669.52 185.1,670.01 186.51,670.51 187.92,671.01 189.33,671.51 190.73,672.02 192.14,672.54 193.54,673.06 194.94,673.58 196.34,674.11 197.74,674.64 199.14,675.17 200.54,675.71 201.94,676.24 203.33,676.79 204.73,677.33 206.13,677.88 207.52,678.43 208.91,678.98 210.31,679.54 211.7,680.09 213.09,680.65 214.48,681.21 215.87,681.77 217.27,682.33 218.66,682.9 220.05,683.46 221.44,684.02 222.83,684.59 224.22,685.15 225.61,685.72 227,686.28 228.39,686.85 229.78,687.41 231.17,687.97 232.56,688.54 233.95,689.1 235.35,689.66 236.74,690.22 238.13,690.77 239.53,691.33 240.92,691.88 242.31,692.44 243.71,692.99 245.11,693.53 246.5,694.08 247.9,694.62 249.3,695.16 250.7,695.69 252.1,696.23 253.5,696.75 254.9,697.28 256.31,697.8 257.71,698.32 259.12,698.83 260.52,699.34 261.93,699.85 263.34,700.35 264.76,700.84 266.17,701.33 267.58,701.81 269,702.29 270.42,702.77 271.84,703.24 273.26,703.7 274.68,704.15 276.11,704.6 277.54,705.05 278.97,705.48 280.4,705.91 281.83,706.33 283.27,706.75 284.71,707.16 286.15,707.56 287.59,707.95 289.03,708.33 290.48,708.71 291.93,709.08 293.38,709.44 294.83,709.8 296.29,710.15 297.75,710.49 299.2,710.82 300.66,711.15 302.13,711.48 303.59,711.79 305.05,712.1 306.52,712.41 307.99,712.71 309.45,713 310.92,713.29 312.39,713.58 313.86,713.86 315.33,714.13 316.8,714.41 318.28,714.67 319.75,714.94 321.22,715.2 322.69,715.45 324.17,715.71 325.64,715.96 327.11,716.2 328.58,716.45 330.06,716.69 331.53,716.93 333,717.17 334.47,717.4 335.94,717.64 337.41,717.87 338.88,718.1 340.35,718.33 341.81,718.56 343.28,718.78 344.74,719.01 346.21,719.24 347.67,719.46 349.13,719.69 350.59,719.92 352.04,720.14 353.5,720.37 354.95,720.6 356.4,720.82 357.85,721.06 359.29,721.29 360.73,721.54 362.17,721.8 363.6,722.08 365.02,722.37 366.43,722.69 367.83,723.04 369.22,723.41 370.59,723.82 371.96,724.26 373.3,724.73 374.63,725.24 375.94,725.79 377.23,726.38 378.5,727.01 379.75,727.69 380.97,728.42 382.17,729.19 383.35,730.01 384.49,730.86 385.62,731.76 386.71,732.7 387.78,733.67 388.82,734.68 389.84,735.72 390.82,736.79 391.78,737.9 392.71,739.03 393.6,740.19 394.47,741.38 395.31,742.59 396.12,743.82 396.91,745.08 397.67,746.35 398.4,747.64 399.1,748.95 399.78,750.27 400.44,751.61 401.07,752.96 401.68,754.32 402.27,755.69 402.84,757.06 403.38,758.44 403.91,759.83 404.42,761.22 404.91,762.61 405.38,764.01 405.83,765.41 406.27,766.82 406.69,768.23 407.1,769.64 407.49,771.06 407.87,772.48 408.23,773.9 408.59,775.32 408.93,776.75 409.26,778.18 409.58,779.61 409.89,781.04 410.2,782.47 410.49,783.9 410.77,785.34 411.05,786.78 411.31,788.21 411.57,789.65 411.83,791.09 412.08,792.53 412.32,793.97 412.56,795.4 412.79,796.84 413.02,798.28 413.24,799.72 413.47,801.16 413.69,802.6 413.9,804.03 414.12,805.47 414.33,806.9 414.55,808.34 414.76,809.78 414.97,811.21 415.18,812.65 415.39,814.08 415.6,815.52 415.81,816.96 416.02,818.4 416.24,819.84 416.45,821.29 416.66,822.73 416.87,824.18 417.08,825.63 417.3,827.08 417.51,828.54 417.73,829.99 417.94,831.45 418.16,832.91 418.37,834.38 418.59,835.84 418.8,837.31 419.02,838.78 419.23,840.25 419.45,841.73 419.66,843.2 419.87,844.68 420.08,846.16 420.29,847.64 420.5,849.12 420.71,850.6 420.92,852.08 421.12,853.56 421.32,855.05 421.52,856.53 421.72,858.01 421.92,859.5 422.11,860.99 422.3,862.47 422.49,863.96 422.67,865.44 422.85,866.93 423.03,868.42 423.21,869.9 423.39,871.39 423.56,872.88 423.73,874.36 423.9,875.85 424.06,877.34 424.22,878.82 424.39,880.31 424.55,881.8 424.7,883.28 424.86,884.77 425.02,886.26 425.17,887.75 425.32,889.23 425.47,890.72 425.62,892.21 425.77,893.7 425.91,895.19 426.06,896.67 426.2,898.16 426.35,899.65 426.49,901.14 426.63,902.63 426.78,904.12 426.92,905.6 427.06,907.09 427.2,908.58 427.34,910.07 427.48,911.56 427.62,913.05 427.76,914.54 427.9,916.03 428.04,917.52 428.18,919.01 428.32,920.5 428.46,921.99 428.6,923.48 428.75,924.97 428.89,926.46 429.03,927.95 429.17,929.44 429.32,930.93 429.46,932.42 429.61,933.91 429.75,935.4 429.9,936.89 430.05,938.38 430.19,939.87 430.34,941.36 430.49,942.85 430.64,944.34 430.79,945.83 430.94,947.32 431.1,948.81 431.25,950.3 431.4,951.79 431.56,953.28 431.72,954.77 431.87,956.26 432.03,957.75 432.19,959.24 432.35,960.73 432.51,962.21 432.68,963.7 432.84,965.19 433.01,966.68 433.17,968.17 433.34,969.66 433.51,971.14 433.68,972.63 433.85,974.12 434.03,975.61 434.2,977.09 434.38,978.58 434.56,980.07 434.74,981.55 434.92,983.04 435.1,984.52 435.28,986.01 435.47,987.49 435.66,988.98 435.84,990.46 436.04,991.95 436.23,993.43 436.42,994.91 436.62,996.39 436.82,997.88 437.02,999.36 437.22,1000.84 437.42,1002.32 437.63,1003.8 437.83,1005.28 438.04,1006.76 438.26,1008.24 438.47,1009.72 438.69,1011.2 438.9,1012.68 439.12,1014.16 439.35,1015.64 439.57,1017.11 439.8,1018.59 440.03,1020.07 440.26,1021.55 440.5,1023.03 440.73,1024.51 440.97,1025.99 441.22,1027.48 441.46,1028.96 441.71,1030.44 441.97,1031.93 442.22,1033.41 442.48,1034.9 442.74,1036.39 443,1037.88 443.27,1039.37 443.55,1040.86 443.83,1042.35 444.12,1043.84 444.42,1045.33 444.73,1046.81 445.06,1048.28 445.41,1049.75 445.77,1051.22 446.14,1052.67 446.54,1054.12 446.96,1055.56 447.41,1056.98 447.88,1058.4 448.38,1059.8 448.9,1061.19 449.46,1062.56 450.04,1063.92 450.66,1065.26 451.31,1066.58 452,1067.88 452.71,1069.17 453.46,1070.43 454.25,1071.67 455.06,1072.88 455.91,1074.07 456.8,1075.24 457.72,1076.38 458.68,1077.49 459.67,1078.57 460.69,1079.62 461.75,1080.64 462.83,1081.63 463.95,1082.6 465.1,1083.53 466.27,1084.44 467.47,1085.32 468.7,1086.17 469.94,1086.99 471.21,1087.78 472.51,1088.55 473.82,1089.29 475.15,1090 476.49,1090.7 477.85,1091.36 479.23,1092.01 480.61,1092.64 482.01,1093.24 483.42,1093.83 484.83,1094.39 486.25,1094.94 487.68,1095.47 489.11,1095.99 490.54,1096.49 491.98,1096.98 493.42,1097.45 494.86,1097.91 496.3,1098.36 497.75,1098.8 499.2,1099.23 500.65,1099.64 502.1,1100.05 503.55,1100.44 505,1100.83 506.45,1101.21 507.9,1101.59 509.36,1101.96 510.81,1102.32 512.26,1102.68 513.71,1103.03 515.16,1103.37 516.61,1103.71 518.07,1104.05 519.52,1104.38 520.97,1104.71 522.42,1105.04 523.87,1105.36 525.32,1105.67 526.77,1105.99 528.21,1106.3 529.66,1106.6 531.11,1106.91 532.56,1107.21 534.01,1107.51 535.46,1107.81 536.91,1108.1 538.35,1108.4 539.8,1108.69 541.25,1108.98 542.69,1109.27 544.14,1109.56 545.59,1109.85 547.03,1110.14 548.48,1110.43 549.93,1110.72 551.37,1111.01 552.82,1111.31 554.26,1111.6 555.71,1111.89 557.15,1112.19 558.59,1112.48 560.04,1112.78 561.48,1113.07 562.93,1113.37 564.37,1113.67 565.81,1113.97 567.26,1114.26 568.7,1114.56 570.14,1114.85 571.58,1115.14 573.03,1115.43 574.47,1115.72 575.91,1116.01 577.36,1116.3 578.8,1116.58 580.24,1116.86 581.69,1117.13 583.13,1117.41 584.58,1117.68 586.02,1117.95 587.47,1118.21 588.92,1118.48 590.36,1118.74 591.81,1119 593.26,1119.26 594.71,1119.52 596.16,1119.77 597.61,1120.03 599.06,1120.29 600.52,1120.55 601.97,1120.8 603.42,1121.06 604.88,1121.32 606.33,1121.58 607.79,1121.85 609.24,1122.11 610.7,1122.38 612.16,1122.65 613.61,1122.92 615.07,1123.2 616.52,1123.48 617.98,1123.77 619.43,1124.06 620.89,1124.36 622.34,1124.65 623.79,1124.96 625.25,1125.27 626.7,1125.58 628.15,1125.9 629.6,1126.22 631.06,1126.54 632.51,1126.87 633.96,1127.21 635.41,1127.55 636.86,1127.89 638.31,1128.23 639.75,1128.58 641.2,1128.93 642.65,1129.29 644.1,1129.65 645.55,1130.01 646.99,1130.37 648.44,1130.74 649.89,1131.11 651.33,1131.49 652.78,1131.86 654.22,1132.24 655.67,1132.63 657.11,1133.01 658.56,1133.4 660,1133.79 661.44,1134.18 662.89,1134.57 664.33,1134.97 665.77,1135.37 667.21,1135.77 668.65,1136.17 670.09,1136.57 671.53,1136.98 672.97,1137.38 674.41,1137.79 675.85,1138.2 677.29,1138.61 678.73,1139.02 680.16,1139.43 681.6,1139.84 683.04,1140.25 684.47,1140.67 685.91,1141.08 687.34,1141.5 688.78,1141.91 690.21,1142.33 691.64,1142.74 693.07,1143.15 694.51,1143.57 695.94,1143.98 697.37,1144.4 698.8,1144.81 700.23,1145.23 701.66,1145.64 703.08,1146.05 704.51,1146.46 705.94,1146.87 707.37,1147.28 708.79,1147.69 710.22,1148.1 711.65,1148.51 713.08,1148.91 714.5,1149.32 715.93,1149.72 717.36,1150.12 718.78,1150.52 720.21,1150.92 721.64,1151.32 723.06,1151.71 724.49,1152.11 725.92,1152.5 727.35,1152.89 728.78,1153.28 730.21,1153.67 731.64,1154.05 733.07,1154.44 734.5,1154.82 735.93,1155.2 737.37,1155.57 738.8,1155.95 740.23,1156.32 741.67,1156.69 743.11,1157.06 744.54,1157.42 745.98,1157.78 747.42,1158.14 748.86,1158.5 750.3,1158.85 751.74,1159.21 753.18,1159.55 754.63,1159.9 756.07,1160.25 757.52,1160.59 758.96,1160.92 760.41,1161.26 761.86,1161.59 763.31,1161.92 764.75,1162.25 766.2,1162.57 767.66,1162.9 769.11,1163.21 770.56,1163.53 772.01,1163.84 773.47,1164.15 774.92,1164.46 776.38,1164.76 777.84,1165.07 779.29,1165.36 780.75,1165.66 782.21,1165.95 783.67,1166.24 785.13,1166.53 786.59,1166.81 788.06,1167.09 789.52,1167.36 790.98,1167.64 792.45,1167.91 793.91,1168.17 795.38,1168.44 796.85,1168.7 798.31,1168.95 799.78,1169.21 801.25,1169.46 802.72,1169.71 804.19,1169.95 805.67,1170.19 807.14,1170.43 808.61,1170.66 810.09,1170.89 811.56,1171.12 813.04,1171.34 814.51,1171.56 815.99,1171.78 817.47,1171.99 818.94,1172.2 820.42,1172.41 821.9,1172.62 823.38,1172.82 824.86,1173.02 826.34,1173.22 827.82,1173.41 829.31,1173.61 830.79,1173.8 832.27,1173.98 833.76,1174.17 835.24,1174.35 836.72,1174.53 838.21,1174.71 839.69,1174.89 841.18,1175.07 842.66,1175.24 844.15,1175.41 845.64,1175.58 847.12,1175.75 848.61,1175.91 850.1,1176.08 851.59,1176.24 853.07,1176.4 854.56,1176.56 856.05,1176.72 857.54,1176.88 859.03,1177.04 860.52,1177.19 862.01,1177.35 863.5,1177.5 864.99,1177.65 866.48,1177.81 867.97,1177.96 869.45,1178.11 870.94,1178.26 872.43,1178.41 873.92,1178.55 875.41,1178.7 876.9,1178.85 878.39,1179 879.88,1179.14 881.37,1179.29 882.86,1179.44 884.35,1179.58 885.84,1179.73 887.33,1179.88 888.82,1180.02 890.31,1180.17 891.8,1180.32 893.28,1180.47 894.77,1180.61 896.26,1180.76 897.75,1180.91 899.24,1181.06 900.72,1181.21 902.21,1181.36 903.7,1181.51" stroke="#111" stroke-width="1.5" fill="none"/>
<path d="M129.69,655.11 131.19,655.05 132.7,655 134.2,654.97 135.7,654.94 137.21,654.92 138.71,654.91 140.21,654.92 141.71,654.93 143.21,654.95 144.71,654.98 146.21,655.03 147.71,655.08 149.21,655.14 150.71,655.21 152.21,655.3 153.7,655.39 155.2,655.49 156.69,655.6 158.18,655.72 159.68,655.84 161.17,655.98 162.66,656.13 164.15,656.29 165.63,656.45 167.12,656.62 168.6,656.81 170.09,657 171.57,657.2 173.05,657.41 174.53,657.63 176.01,657.85 177.49,658.09 178.96,658.33 180.44,658.58 181.91,658.84 183.38,659.11 184.85,659.39 186.31,659.67 187.78,659.97 189.24,660.27 190.7,660.57 192.16,660.89 193.62,661.22 195.08,661.55 196.53,661.89 197.98,662.23 199.43,662.59 200.88,662.95 202.33,663.32 203.77,663.69 205.22,664.08 206.66,664.47 208.1,664.86 209.54,665.27 210.97,665.68 212.41,666.09 213.84,666.52 215.28,666.95 216.71,667.38 218.14,667.82 219.57,668.27 220.99,668.72 222.42,669.18 223.85,669.65 225.27,670.12 226.69,670.59 228.11,671.07 229.53,671.56 230.95,672.05 232.37,672.55 233.79,673.05 235.2,673.55 236.62,674.06 238.03,674.58 239.44,675.1 240.86,675.62 242.27,676.15 243.68,676.68 245.09,677.21 246.5,677.75 247.91,678.28 249.32,678.82 250.73,679.36 252.14,679.89 253.55,680.42 254.96,680.95 256.37,681.48 257.79,682.01 259.2,682.53 260.61,683.04 262.03,683.56 263.44,684.06 264.86,684.56 266.28,685.05 267.7,685.53 269.12,686.01 270.54,686.48 271.97,686.93 273.39,687.38 274.82,687.82 276.25,688.24 277.69,688.65 279.12,689.05 280.56,689.44 282,689.81 283.45,690.17 284.9,690.51 286.35,690.84 287.8,691.15 289.26,691.45 290.72,691.73 292.18,692 293.64,692.26 295.11,692.5 296.57,692.74 298.04,692.97 299.52,693.19 300.99,693.4 302.47,693.61 303.94,693.81 305.42,694.01 306.9,694.2 308.38,694.39 309.86,694.58 311.34,694.77 312.82,694.96 314.3,695.15 315.78,695.34 317.27,695.54 318.75,695.73 320.23,695.94 321.71,696.15 323.19,696.36 324.67,696.58 326.15,696.82 327.63,697.06 329.1,697.31 330.58,697.57 332.05,697.84 333.52,698.13 334.99,698.43 336.46,698.75 337.93,699.08 339.39,699.43 340.85,699.8 342.31,700.18 343.77,700.59 345.22,701.01 346.67,701.46 348.11,701.93 349.56,702.42 351,702.93 352.43,703.47 353.85,704.03 355.27,704.62 356.68,705.23 358.07,705.86 359.46,706.51 360.83,707.19 362.19,707.89 363.54,708.62 364.87,709.37 366.18,710.14 367.47,710.94 368.75,711.76 370,712.61 371.23,713.48 372.44,714.37 373.63,715.29 374.79,716.23 375.92,717.2 377.03,718.19 378.11,719.21 379.16,720.25 380.17,721.32 381.16,722.41 382.12,723.53 383.05,724.67 383.95,725.83 384.82,727.01 385.67,728.21 386.49,729.43 387.28,730.67 388.06,731.93 388.81,733.2 389.53,734.49 390.24,735.79 390.93,737.11 391.6,738.44 392.24,739.78 392.88,741.13 393.49,742.49 394.09,743.86 394.68,745.24 395.25,746.63 395.81,748.02 396.35,749.42 396.89,750.83 397.42,752.23 397.93,753.64 398.44,755.05 398.94,756.47 399.43,757.89 399.91,759.31 400.39,760.73 400.85,762.15 401.31,763.58 401.76,765 402.2,766.43 402.64,767.87 403.06,769.3 403.48,770.74 403.9,772.17 404.3,773.61 404.7,775.06 405.09,776.5 405.47,777.95 405.85,779.39 406.22,780.84 406.58,782.29 406.94,783.74 407.29,785.2 407.64,786.65 407.98,788.11 408.31,789.57 408.64,791.03 408.96,792.49 409.28,793.96 409.59,795.42 409.89,796.89 410.19,798.35 410.49,799.82 410.78,801.29 411.07,802.76 411.35,804.24 411.62,805.71 411.89,807.18 412.16,808.66 412.42,810.14 412.68,811.61 412.94,813.09 413.19,814.57 413.44,816.05 413.68,817.54 413.92,819.02 414.16,820.5 414.39,821.99 414.62,823.47 414.85,824.96 415.07,826.44 415.3,827.93 415.51,829.42 415.73,830.91 415.94,832.39 416.16,833.88 416.36,835.37 416.57,836.86 416.78,838.35 416.98,839.84 417.18,841.34 417.38,842.83 417.58,844.32 417.78,845.81 417.97,847.3 418.17,848.8 418.36,850.29 418.55,851.78 418.75,853.27 418.94,854.77 419.13,856.26 419.32,857.75 419.51,859.24 419.7,860.74 419.89,862.23 420.08,863.72 420.27,865.21 420.46,866.7 420.65,868.2 420.84,869.69 421.03,871.18 421.22,872.67 421.42,874.16 421.61,875.65 421.81,877.14 422,878.63 422.2,880.11 422.4,881.6 422.6,883.09 422.8,884.57 423,886.06 423.21,887.55 423.41,889.03 423.62,890.51 423.83,892 424.04,893.48 424.25,894.97 424.46,896.45 424.67,897.93 424.88,899.41 425.1,900.89 425.31,902.37 425.53,903.85 425.75,905.33 425.97,906.81 426.19,908.29 426.41,909.77 426.63,911.25 426.85,912.73 427.07,914.21 427.3,915.69 427.52,917.16 427.74,918.64 427.97,920.12 428.2,921.6 428.42,923.07 428.65,924.55 428.88,926.02 429.11,927.5 429.34,928.98 429.57,930.45 429.8,931.93 430.03,933.4 430.26,934.88 430.49,936.35 430.73,937.83 430.96,939.3 431.19,940.78 431.43,942.25 431.66,943.73 431.9,945.2 432.13,946.68 432.37,948.15 432.6,949.62 432.84,951.1 433.07,952.57 433.31,954.05 433.55,955.52 433.78,957 434.02,958.47 434.26,959.95 434.49,961.42 434.73,962.89 434.97,964.37 435.2,965.84 435.44,967.32 435.68,968.79 435.91,970.27 436.15,971.74 436.39,973.22 436.62,974.7 436.86,976.17 437.1,977.65 437.33,979.12 437.57,980.6 437.8,982.08 438.04,983.55 438.27,985.03 438.51,986.51 438.74,987.99 438.98,989.46 439.21,990.94 439.44,992.42 439.68,993.9 439.91,995.38 440.14,996.86 440.37,998.34 440.6,999.82 440.83,1001.3 441.06,1002.78 441.29,1004.26 441.52,1005.74 441.75,1007.22 441.97,1008.7 442.2,1010.19 442.43,1011.67 442.65,1013.15 442.88,1014.64 443.1,1016.12 443.32,1017.61 443.54,1019.09 443.76,1020.58 443.98,1022.07 444.2,1023.55 444.42,1025.04 444.64,1026.53 444.86,1028.02 445.07,1029.51 445.29,1031 445.5,1032.49 445.71,1033.98 445.92,1035.47 446.13,1036.97 446.34,1038.46 446.55,1039.95 446.76,1041.45 446.96,1042.94 447.17,1044.44 447.37,1045.94 447.57,1047.43 447.77,1048.93 447.97,1050.43 448.17,1051.93 448.37,1053.43 448.56,1054.93 448.76,1056.43 448.95,1057.93 449.14,1059.44 449.33,1060.94 449.52,1062.45 449.7,1063.95 449.89,1065.46 450.07,1066.97 450.25,1068.48 450.44,1069.98 450.62,1071.49 450.81,1073 451,1074.51 451.19,1076.01 451.39,1077.52 451.59,1079.02 451.8,1080.52 452.03,1082.02 452.26,1083.51 452.5,1085 452.75,1086.49 453.02,1087.97 453.3,1089.45 453.59,1090.92 453.91,1092.39 454.23,1093.85 454.58,1095.31 454.95,1096.76 455.33,1098.2 455.74,1099.64 456.17,1101.06 456.63,1102.48 457.11,1103.9 457.61,1105.3 458.14,1106.69 458.7,1108.07 459.29,1109.43 459.9,1110.78 460.54,1112.11 461.22,1113.42 461.92,1114.71 462.65,1115.98 463.42,1117.22 464.21,1118.43 465.04,1119.62 465.9,1120.78 466.8,1121.9 467.73,1123 468.7,1124.06 469.7,1125.08 470.74,1126.06 471.81,1127 472.92,1127.9 474.07,1128.76 475.25,1129.58 476.47,1130.37 477.71,1131.11 478.99,1131.82 480.29,1132.5 481.62,1133.14 482.97,1133.75 484.34,1134.34 485.73,1134.89 487.14,1135.42 488.56,1135.92 490,1136.4 491.45,1136.85 492.91,1137.29 494.38,1137.7 495.85,1138.1 497.33,1138.48 498.81,1138.84 500.3,1139.19 501.78,1139.53 503.27,1139.85 504.76,1140.16 506.24,1140.46 507.73,1140.74 509.22,1141.02 510.72,1141.28 512.21,1141.54 513.7,1141.79 515.2,1142.03 516.69,1142.26 518.18,1142.49 519.68,1142.7 521.18,1142.92 522.67,1143.13 524.17,1143.33 525.66,1143.53 527.16,1143.73 528.65,1143.93 530.15,1144.12 531.64,1144.31 533.14,1144.5 534.63,1144.7 536.13,1144.89 537.62,1145.08 539.11,1145.28 540.6,1145.48 542.09,1145.68 543.58,1145.88 545.07,1146.08 546.56,1146.29 548.05,1146.5 549.54,1146.71 551.02,1146.92 552.51,1147.14 553.99,1147.36 555.48,1147.58 556.96,1147.8 558.44,1148.02 559.93,1148.25 561.41,1148.47 562.89,1148.7 564.37,1148.93 565.85,1149.17 567.33,1149.4 568.81,1149.64 570.28,1149.88 571.76,1150.12 573.24,1150.36 574.71,1150.61 576.19,1150.85 577.67,1151.1 579.14,1151.35 580.61,1151.61 582.09,1151.86 583.56,1152.12 585.03,1152.38 586.51,1152.64 587.98,1152.9 589.45,1153.16 590.92,1153.43 592.39,1153.7 593.86,1153.97 595.33,1154.24 596.8,1154.51 598.27,1154.79 599.74,1155.06 601.2,1155.34 602.67,1155.62 604.14,1155.9 605.61,1156.19 607.07,1156.47 608.54,1156.76 610,1157.05 611.47,1157.34 612.94,1157.63 614.4,1157.93 615.87,1158.22 617.33,1158.52 618.79,1158.82 620.26,1159.12 621.72,1159.43 623.18,1159.73 624.65,1160.04 626.11,1160.34 627.57,1160.65 629.04,1160.97 630.5,1161.28 631.96,1161.59 633.42,1161.91 634.88,1162.23 636.34,1162.55 637.81,1162.87 639.27,1163.19 640.73,1163.51 642.19,1163.84 643.65,1164.16 645.11,1164.49 646.57,1164.82 648.03,1165.15 649.49,1165.49 650.95,1165.82 652.41,1166.16 653.87,1166.5 655.33,1166.84 656.79,1167.18 658.26,1167.52 659.72,1167.86 661.18,1168.21 662.64,1168.55 664.1,1168.9 665.56,1169.25 667.02,1169.6 668.48,1169.95 669.94,1170.29 671.4,1170.65 672.86,1171 674.32,1171.35 675.78,1171.7 677.24,1172.05 678.7,1172.4 680.16,1172.75 681.63,1173.1 683.09,1173.44 684.55,1173.79 686.01,1174.14 687.48,1174.49 688.94,1174.83 690.4,1175.17 691.86,1175.52 693.33,1175.86 694.79,1176.2 696.26,1176.53 697.72,1176.87 699.19,1177.2 700.65,1177.53 702.12,1177.86 703.58,1178.19 705.05,1178.51 706.52,1178.83 707.98,1179.15 709.45,1179.46 710.92,1179.78 712.39,1180.09 713.86,1180.39 715.32,1180.69 716.79,1180.99 718.27,1181.29 719.74,1181.58 721.21,1181.86 722.68,1182.15 724.15,1182.43 725.63,1182.7 727.1,1182.97 728.57,1183.24 730.05,1183.5 731.52,1183.75 733,1184 734.48,1184.25 735.96,1184.49 737.43,1184.72 738.91,1184.95 740.39,1185.18 741.87,1185.39 743.35,1185.61 744.83,1185.81 746.32,1186.01 747.8,1186.21 749.28,1186.4 750.77,1186.58 752.25,1186.76 753.74,1186.94 755.23,1187.11 756.71,1187.27 758.2,1187.43 759.69,1187.59 761.18,1187.74 762.66,1187.88 764.15,1188.02 765.64,1188.16 767.14,1188.29 768.63,1188.42 770.12,1188.54 771.61,1188.66 773.1,1188.77 774.6,1188.88 776.09,1188.99 777.58,1189.09 779.08,1189.19 780.57,1189.28 782.07,1189.37 783.56,1189.45 785.06,1189.54 786.56,1189.62 788.05,1189.69 789.55,1189.76 791.05,1189.83 792.54,1189.89 794.04,1189.95 795.54,1190.01 797.04,1190.07 798.54,1190.12 800.04,1190.17 801.54,1190.21 803.04,1190.26 804.54,1190.29 806.04,1190.33 807.54,1190.37 809.04,1190.4 810.54,1190.43 812.04,1190.45 813.54,1190.48 815.04,1190.5 816.54,1190.52 818.04,1190.54 819.54,1190.55 821.05,1190.56 822.55,1190.58 824.05,1190.58 825.55,1190.59 827.05,1190.6 828.55,1190.6 830.06,1190.6 831.56,1190.6 833.06,1190.6 834.56,1190.6 836.06,1190.59 837.57,1190.59 839.07,1190.58 840.57,1190.57 842.07,1190.57 843.57,1190.56 845.08,1190.54 846.58,1190.53 848.08,1190.52 849.58,1190.51 851.08,1190.49 852.58,1190.48 854.08,1190.46 855.59,1190.44 857.09,1190.43 858.59,1190.41 860.09,1190.39 861.59,1190.38 863.09,1190.36 864.59,1190.34 866.09,1190.32 867.59,1190.3 869.08,1190.29 870.58,1190.27 872.08,1190.25 873.58,1190.23 875.08,1190.22 876.57,1190.2 878.07,1190.18 879.57,1190.17 881.07,1190.15 882.56,1190.14 884.06,1190.13 885.55,1190.12 887.05,1190.1 888.54,1190.09 890.04,1190.08 891.53,1190.08 893.02,1190.07 894.52,1190.06 896.01,1190.06 897.5,1190.06 898.99,1190.05 900.48,1190.05 901.97,1190.06 903.46,1190.06" stroke="#ff0000" stroke-width="1.5" fill="none" stroke-dasharray="19 4"/>
<path d="M129.7,655.02 131.2,655 132.7,654.98 134.2,654.97 135.71,654.97 137.21,654.97 138.71,654.98 140.21,655.01 141.71,655.03 143.21,655.07 144.71,655.11 146.21,655.16 147.71,655.22 149.21,655.28 150.7,655.35 152.2,655.43 153.7,655.52 155.19,655.62 156.69,655.72 158.18,655.83 159.67,655.94 161.17,656.07 162.66,656.2 164.15,656.33 165.64,656.48 167.13,656.63 168.61,656.79 170.1,656.96 171.59,657.13 173.07,657.32 174.56,657.5 176.04,657.7 177.52,657.9 179,658.12 180.48,658.33 181.96,658.56 183.44,658.79 184.92,659.03 186.39,659.28 187.87,659.53 189.34,659.79 190.81,660.06 192.28,660.34 193.75,660.62 195.22,660.91 196.69,661.2 198.15,661.51 199.62,661.82 201.08,662.14 202.54,662.46 204,662.79 205.46,663.13 206.91,663.48 208.37,663.83 209.82,664.19 211.27,664.56 212.72,664.94 214.17,665.32 215.62,665.71 217.06,666.1 218.51,666.5 219.95,666.91 221.39,667.33 222.83,667.75 224.26,668.18 225.7,668.62 227.13,669.07 228.56,669.52 229.99,669.97 231.42,670.44 232.84,670.91 234.27,671.39 235.69,671.88 237.11,672.37 238.52,672.87 239.94,673.38 241.35,673.89 242.76,674.41 244.17,674.93 245.58,675.46 246.99,675.99 248.39,676.53 249.8,677.06 251.2,677.6 252.61,678.14 254.01,678.68 255.41,679.22 256.82,679.77 258.22,680.3 259.62,680.84 261.03,681.38 262.43,681.91 263.84,682.44 265.25,682.96 266.66,683.48 268.06,683.99 269.48,684.49 270.89,684.99 272.3,685.48 273.72,685.97 275.14,686.44 276.56,686.91 277.99,687.36 279.41,687.8 280.84,688.23 282.28,688.65 283.71,689.06 285.15,689.45 286.6,689.83 288.05,690.2 289.5,690.55 290.95,690.89 292.41,691.23 293.87,691.55 295.33,691.86 296.79,692.16 298.26,692.46 299.73,692.75 301.2,693.03 302.67,693.31 304.14,693.59 305.61,693.86 307.09,694.13 308.56,694.4 310.04,694.67 311.51,694.94 312.99,695.21 314.46,695.49 315.94,695.77 317.41,696.05 318.88,696.33 320.36,696.63 321.83,696.92 323.29,697.23 324.76,697.55 326.23,697.87 327.69,698.21 329.15,698.55 330.61,698.91 332.06,699.28 333.51,699.67 334.96,700.07 336.41,700.48 337.85,700.91 339.29,701.36 340.72,701.83 342.15,702.31 343.57,702.82 344.99,703.34 346.4,703.88 347.81,704.44 349.21,705.02 350.6,705.62 351.98,706.23 353.35,706.87 354.72,707.52 356.07,708.19 357.42,708.88 358.75,709.59 360.07,710.31 361.38,711.06 362.68,711.82 363.96,712.6 365.23,713.4 366.49,714.22 367.73,715.06 368.96,715.91 370.17,716.78 371.36,717.67 372.54,718.58 373.7,719.51 374.84,720.46 375.97,721.42 377.07,722.4 378.16,723.4 379.22,724.42 380.27,725.46 381.29,726.51 382.3,727.59 383.28,728.68 384.23,729.79 385.17,730.91 386.08,732.06 386.96,733.22 387.82,734.4 388.66,735.6 389.47,736.82 390.25,738.06 391.01,739.31 391.74,740.58 392.44,741.87 393.11,743.17 393.77,744.49 394.4,745.83 395,747.18 395.58,748.54 396.14,749.92 396.68,751.31 397.2,752.71 397.7,754.12 398.19,755.55 398.65,756.98 399.1,758.43 399.53,759.88 399.95,761.34 400.35,762.81 400.74,764.29 401.12,765.77 401.48,767.26 401.83,768.75 402.18,770.25 402.51,771.76 402.83,773.26 403.15,774.77 403.46,776.28 403.76,777.79 404.06,779.3 404.35,780.82 404.64,782.33 404.92,783.84 405.2,785.35 405.48,786.86 405.76,788.36 406.04,789.87 406.32,791.37 406.59,792.86 406.86,794.36 407.13,795.86 407.4,797.35 407.67,798.84 407.94,800.33 408.2,801.82 408.46,803.3 408.72,804.79 408.99,806.27 409.24,807.75 409.5,809.23 409.76,810.71 410.01,812.19 410.27,813.67 410.52,815.14 410.77,816.62 411.02,818.09 411.27,819.56 411.52,821.04 411.76,822.51 412.01,823.98 412.25,825.45 412.5,826.91 412.74,828.38 412.98,829.85 413.22,831.32 413.46,832.78 413.7,834.25 413.94,835.72 414.17,837.18 414.41,838.65 414.64,840.12 414.88,841.58 415.11,843.05 415.34,844.51 415.58,845.98 415.81,847.44 416.04,848.91 416.27,850.38 416.5,851.85 416.72,853.31 416.95,854.78 417.18,856.25 417.41,857.72 417.63,859.19 417.86,860.66 418.08,862.13 418.31,863.6 418.53,865.07 418.75,866.54 418.98,868.02 419.2,869.49 419.42,870.96 419.64,872.44 419.86,873.91 420.08,875.39 420.3,876.86 420.52,878.34 420.74,879.81 420.96,881.29 421.18,882.77 421.4,884.24 421.61,885.72 421.83,887.2 422.05,888.68 422.26,890.16 422.48,891.64 422.69,893.12 422.91,894.6 423.12,896.08 423.34,897.56 423.55,899.04 423.76,900.52 423.98,902 424.19,903.48 424.4,904.96 424.61,906.45 424.82,907.93 425.04,909.41 425.25,910.9 425.46,912.38 425.67,913.86 425.88,915.35 426.09,916.83 426.3,918.32 426.51,919.8 426.71,921.29 426.92,922.77 427.13,924.26 427.34,925.74 427.55,927.23 427.76,928.71 427.96,930.2 428.17,931.69 428.38,933.17 428.58,934.66 428.79,936.15 429,937.64 429.2,939.12 429.41,940.61 429.62,942.1 429.82,943.59 430.03,945.07 430.23,946.56 430.44,948.05 430.64,949.54 430.85,951.03 431.05,952.52 431.26,954.01 431.46,955.49 431.67,956.98 431.87,958.47 432.08,959.96 432.28,961.45 432.49,962.94 432.69,964.43 432.89,965.92 433.1,967.41 433.3,968.9 433.51,970.39 433.71,971.88 433.92,973.37 434.12,974.85 434.32,976.34 434.53,977.83 434.73,979.32 434.94,980.81 435.14,982.3 435.35,983.79 435.55,985.28 435.75,986.77 435.96,988.26 436.16,989.75 436.37,991.24 436.57,992.73 436.78,994.22 436.98,995.71 437.19,997.19 437.39,998.68 437.6,1000.17 437.8,1001.66 438.01,1003.15 438.22,1004.64 438.42,1006.13 438.63,1007.61 438.83,1009.1 439.04,1010.59 439.25,1012.08 439.45,1013.57 439.66,1015.05 439.87,1016.54 440.08,1018.03 440.28,1019.51 440.49,1021 440.7,1022.49 440.91,1023.97 441.12,1025.46 441.32,1026.95 441.53,1028.43 441.74,1029.92 441.95,1031.4 442.16,1032.89 442.37,1034.37 442.58,1035.86 442.79,1037.34 443.01,1038.83 443.22,1040.31 443.43,1041.79 443.65,1043.28 443.86,1044.76 444.08,1046.24 444.3,1047.72 444.52,1049.21 444.74,1050.69 444.97,1052.17 445.19,1053.65 445.42,1055.13 445.65,1056.61 445.88,1058.09 446.12,1059.57 446.36,1061.05 446.6,1062.53 446.84,1064 447.09,1065.48 447.34,1066.96 447.59,1068.44 447.85,1069.91 448.11,1071.39 448.38,1072.86 448.64,1074.34 448.92,1075.81 449.19,1077.29 449.47,1078.76 449.76,1080.23 450.05,1081.71 450.34,1083.18 450.64,1084.65 450.95,1086.12 451.25,1087.59 451.57,1089.06 451.89,1090.53 452.21,1092 452.54,1093.46 452.88,1094.93 453.22,1096.4 453.57,1097.86 453.93,1099.33 454.29,1100.79 454.65,1102.26 455.03,1103.72 455.41,1105.18 455.8,1106.64 456.19,1108.1 456.59,1109.57 457,1111.02 457.42,1112.48 457.84,1113.94 458.27,1115.4 458.71,1116.85 459.16,1118.3 459.63,1119.75 460.12,1121.18 460.62,1122.59 461.15,1123.99 461.71,1125.36 462.31,1126.71 462.93,1128.03 463.6,1129.32 464.3,1130.57 465.05,1131.79 465.84,1132.97 466.69,1134.1 467.59,1135.18 468.55,1136.21 469.56,1137.18 470.64,1138.1 471.78,1138.97 472.97,1139.78 474.2,1140.55 475.47,1141.28 476.77,1141.97 478.09,1142.64 479.42,1143.28 480.77,1143.89 482.12,1144.49 483.47,1145.07 484.84,1145.63 486.21,1146.17 487.59,1146.69 488.98,1147.19 490.38,1147.68 491.78,1148.14 493.19,1148.59 494.6,1149.03 496.02,1149.44 497.45,1149.84 498.88,1150.23 500.32,1150.6 501.76,1150.96 503.21,1151.3 504.66,1151.62 506.12,1151.94 507.59,1152.24 509.06,1152.52 510.53,1152.8 512.01,1153.06 513.49,1153.31 514.97,1153.55 516.46,1153.78 517.96,1154 519.45,1154.21 520.95,1154.4 522.45,1154.59 523.96,1154.77 525.47,1154.94 526.98,1155.1 528.49,1155.26 530.01,1155.4 531.53,1155.54 533.05,1155.68 534.57,1155.8 536.09,1155.92 537.61,1156.04 539.14,1156.15 540.67,1156.26 542.19,1156.36 543.72,1156.45 545.25,1156.55 546.78,1156.63 548.31,1156.72 549.84,1156.81 551.37,1156.89 552.89,1156.97 554.42,1157.05 555.95,1157.13 557.48,1157.2 559,1157.28 560.52,1157.36 562.05,1157.44 563.57,1157.51 565.09,1157.59 566.61,1157.67 568.12,1157.75 569.64,1157.83 571.16,1157.91 572.67,1157.99 574.18,1158.07 575.69,1158.15 577.2,1158.24 578.71,1158.32 580.22,1158.4 581.73,1158.48 583.24,1158.56 584.74,1158.65 586.24,1158.73 587.75,1158.81 589.25,1158.9 590.75,1158.98 592.25,1159.06 593.75,1159.15 595.25,1159.23 596.75,1159.31 598.25,1159.39 599.74,1159.48 601.24,1159.56 602.73,1159.64 604.23,1159.73 605.72,1159.81 607.21,1159.89 608.71,1159.98 610.2,1160.06 611.69,1160.14 613.18,1160.22 614.67,1160.3 616.16,1160.38 617.65,1160.47 619.14,1160.55 620.62,1160.63 622.11,1160.71 623.6,1160.79 625.09,1160.87 626.57,1160.95 628.06,1161.03 629.55,1161.1 631.03,1161.18 632.52,1161.26 634,1161.34 635.49,1161.41 636.97,1161.49 638.46,1161.56 639.94,1161.64 641.42,1161.71 642.91,1161.79 644.39,1161.86 645.88,1161.93 647.36,1162 648.85,1162.07 650.33,1162.14 651.81,1162.21 653.3,1162.28 654.78,1162.35 656.27,1162.42 657.75,1162.48 659.24,1162.55 660.72,1162.61 662.21,1162.68 663.69,1162.74 665.18,1162.8 666.66,1162.86 668.15,1162.92 669.64,1162.98 671.12,1163.04 672.61,1163.1 674.1,1163.15 675.59,1163.21 677.08,1163.26 678.56,1163.31 680.05,1163.37 681.54,1163.42 683.03,1163.47 684.53,1163.51 686.02,1163.56 687.51,1163.61 689,1163.65 690.49,1163.7 691.99,1163.74 693.48,1163.78 694.97,1163.83 696.47,1163.87 697.96,1163.91 699.46,1163.94 700.95,1163.98 702.45,1164.02 703.94,1164.06 705.44,1164.09 706.94,1164.13 708.43,1164.16 709.93,1164.19 711.43,1164.23 712.93,1164.26 714.42,1164.29 715.92,1164.32 717.42,1164.35 718.92,1164.38 720.42,1164.4 721.92,1164.43 723.42,1164.46 724.92,1164.48 726.42,1164.51 727.92,1164.54 729.42,1164.56 730.92,1164.58 732.42,1164.61 733.93,1164.63 735.43,1164.65 736.93,1164.67 738.43,1164.69 739.93,1164.71 741.44,1164.73 742.94,1164.75 744.44,1164.77 745.95,1164.79 747.45,1164.81 748.95,1164.83 750.46,1164.84 751.96,1164.86 753.46,1164.88 754.97,1164.89 756.47,1164.91 757.98,1164.93 759.48,1164.94 760.99,1164.96 762.49,1164.97 763.99,1164.99 765.5,1165 767,1165.02 768.51,1165.03 770.01,1165.04 771.52,1165.06 773.02,1165.07 774.53,1165.08 776.03,1165.1 777.54,1165.11 779.04,1165.12 780.55,1165.14 782.05,1165.15 783.56,1165.16 785.06,1165.17 786.57,1165.19 788.07,1165.2 789.58,1165.21 791.08,1165.22 792.59,1165.24 794.09,1165.25 795.6,1165.26 797.1,1165.28 798.61,1165.29 800.11,1165.3 801.62,1165.31 803.12,1165.33 804.63,1165.34 806.13,1165.36 807.64,1165.37 809.14,1165.38 810.64,1165.4 812.15,1165.41 813.65,1165.43 815.16,1165.44 816.66,1165.46 818.16,1165.47 819.67,1165.49 821.17,1165.5 822.67,1165.52 824.17,1165.54 825.68,1165.55 827.18,1165.57 828.68,1165.59 830.18,1165.61 831.68,1165.63 833.19,1165.64 834.69,1165.66 836.19,1165.68 837.69,1165.7 839.19,1165.73 840.69,1165.75 842.19,1165.77 843.69,1165.79 845.19,1165.81 846.69,1165.84 848.19,1165.86 849.68,1165.89 851.18,1165.91 852.68,1165.94 854.18,1165.97 855.67,1165.99 857.17,1166.02 858.67,1166.05 860.16,1166.08 861.66,1166.11 863.16,1166.14 864.65,1166.17 866.15,1166.2 867.64,1166.24 869.13,1166.27 870.63,1166.3 872.12,1166.34 873.61,1166.38 875.11,1166.41 876.6,1166.45 878.09,1166.49 879.58,1166.53 881.07,1166.57 882.56,1166.61 884.05,1166.65 885.54,1166.7 887.03,1166.74 888.52,1166.79 890.01,1166.83 891.5,1166.88 892.98,1166.93 894.47,1166.98 895.95,1167.03 897.44,1167.08 898.93,1167.13 900.41,1167.19 901.89,1167.24 903.38,1167.3" stroke="#0000ff" stroke-width="1.5" fill="none" stroke-dasharray="30.5 3.3 1.2 3.3"/>
<path d="M129.55,655.6 131.09,655.5 132.63,655.41 134.16,655.35 135.7,655.29 137.23,655.25 138.75,655.23 140.28,655.22 141.8,655.23 143.31,655.24 144.83,655.28 146.34,655.32 147.85,655.39 149.35,655.46 150.86,655.55 152.36,655.65 153.86,655.76 155.35,655.89 156.85,656.03 158.34,656.18 159.82,656.34 161.31,656.52 162.79,656.7 164.27,656.9 165.75,657.11 167.23,657.34 168.7,657.57 170.17,657.81 171.64,658.07 173.11,658.33 174.57,658.61 176.03,658.89 177.49,659.19 178.95,659.49 180.41,659.81 181.86,660.13 183.32,660.47 184.77,660.81 186.21,661.16 187.66,661.52 189.11,661.89 190.55,662.27 191.99,662.66 193.43,663.05 194.87,663.45 196.3,663.86 197.74,664.28 199.17,664.7 200.6,665.13 202.03,665.57 203.46,666.02 204.89,666.47 206.31,666.93 207.73,667.39 209.16,667.86 210.58,668.34 212,668.82 213.42,669.31 214.83,669.8 216.25,670.3 217.66,670.8 219.08,671.31 220.49,671.82 221.9,672.33 223.31,672.86 224.72,673.38 226.13,673.91 227.54,674.44 228.94,674.98 230.35,675.51 231.76,676.06 233.16,676.6 234.56,677.15 235.97,677.7 237.37,678.25 238.77,678.81 240.17,679.36 241.57,679.92 242.97,680.48 244.37,681.04 245.77,681.6 247.17,682.16 248.57,682.71 249.97,683.27 251.37,683.82 252.77,684.37 254.17,684.91 255.57,685.45 256.98,685.98 258.38,686.51 259.79,687.03 261.2,687.54 262.61,688.05 264.02,688.54 265.43,689.03 266.85,689.51 268.26,689.98 269.68,690.43 271.11,690.88 272.53,691.31 273.96,691.73 275.39,692.14 276.82,692.53 278.26,692.91 279.7,693.28 281.14,693.62 282.59,693.96 284.04,694.27 285.49,694.57 286.95,694.85 288.41,695.11 289.88,695.35 291.35,695.59 292.82,695.8 294.29,696.01 295.77,696.2 297.25,696.39 298.73,696.57 300.21,696.73 301.7,696.9 303.19,697.05 304.68,697.21 306.17,697.36 307.66,697.5 309.15,697.65 310.64,697.8 312.13,697.95 313.63,698.11 315.12,698.27 316.61,698.43 318.1,698.6 319.59,698.78 321.08,698.96 322.57,699.16 324.06,699.37 325.54,699.59 327.03,699.83 328.51,700.08 329.99,700.34 331.46,700.63 332.94,700.93 334.41,701.25 335.87,701.59 337.34,701.96 338.8,702.34 340.26,702.76 341.71,703.19 343.16,703.65 344.6,704.14 346.03,704.66 347.46,705.19 348.87,705.76 350.28,706.35 351.67,706.96 353.06,707.6 354.43,708.26 355.78,708.95 357.12,709.67 358.45,710.41 359.75,711.18 361.04,711.97 362.31,712.79 363.56,713.63 364.79,714.5 366,715.39 367.18,716.31 368.34,717.26 369.47,718.23 370.58,719.22 371.66,720.25 372.71,721.29 373.73,722.36 374.73,723.46 375.71,724.57 376.66,725.71 377.58,726.87 378.49,728.05 379.37,729.25 380.23,730.46 381.06,731.69 381.88,732.94 382.68,734.2 383.46,735.48 384.22,736.77 384.96,738.07 385.69,739.38 386.4,740.7 387.09,742.03 387.77,743.37 388.44,744.72 389.1,746.07 389.74,747.43 390.37,748.8 390.99,750.16 391.6,751.53 392.2,752.91 392.78,754.29 393.36,755.67 393.93,757.05 394.49,758.44 395.04,759.83 395.57,761.22 396.1,762.62 396.62,764.02 397.13,765.42 397.63,766.83 398.13,768.23 398.61,769.65 399.08,771.06 399.55,772.48 400.01,773.9 400.46,775.32 400.9,776.74 401.33,778.17 401.76,779.6 402.18,781.03 402.59,782.47 402.99,783.9 403.38,785.34 403.77,786.78 404.16,788.23 404.53,789.67 404.9,791.12 405.26,792.57 405.62,794.02 405.97,795.47 406.31,796.93 406.65,798.39 406.98,799.85 407.31,801.31 407.63,802.77 407.94,804.23 408.25,805.7 408.56,807.17 408.86,808.63 409.15,810.1 409.44,811.58 409.73,813.05 410.01,814.52 410.29,816 410.56,817.47 410.83,818.95 411.1,820.43 411.36,821.91 411.62,823.39 411.87,824.87 412.13,826.35 412.38,827.84 412.62,829.32 412.87,830.81 413.11,832.29 413.34,833.78 413.58,835.26 413.82,836.75 414.05,838.24 414.28,839.73 414.51,841.21 414.73,842.7 414.96,844.19 415.18,845.68 415.4,847.17 415.63,848.66 415.85,850.15 416.07,851.64 416.29,853.13 416.51,854.62 416.72,856.11 416.94,857.59 417.16,859.08 417.38,860.57 417.6,862.06 417.82,863.55 418.04,865.04 418.25,866.52 418.47,868.01 418.69,869.5 418.91,870.99 419.13,872.47 419.35,873.96 419.56,875.45 419.78,876.93 420,878.42 420.22,879.9 420.44,881.39 420.66,882.87 420.87,884.36 421.09,885.85 421.31,887.33 421.53,888.81 421.75,890.3 421.96,891.78 422.18,893.27 422.4,894.75 422.62,896.24 422.84,897.72 423.05,899.2 423.27,900.69 423.49,902.17 423.71,903.65 423.92,905.14 424.14,906.62 424.36,908.1 424.58,909.59 424.79,911.07 425.01,912.55 425.23,914.03 425.45,915.52 425.66,917 425.88,918.48 426.1,919.96 426.31,921.44 426.53,922.93 426.75,924.41 426.96,925.89 427.18,927.37 427.4,928.85 427.62,930.33 427.83,931.82 428.05,933.3 428.27,934.78 428.48,936.26 428.7,937.74 428.91,939.22 429.13,940.7 429.35,942.18 429.56,943.66 429.78,945.15 430,946.63 430.21,948.11 430.43,949.59 430.64,951.07 430.86,952.55 431.08,954.03 431.29,955.51 431.51,956.99 431.72,958.47 431.94,959.95 432.16,961.43 432.37,962.91 432.59,964.39 432.8,965.88 433.02,967.36 433.23,968.84 433.45,970.32 433.66,971.8 433.88,973.28 434.09,974.76 434.31,976.24 434.52,977.72 434.74,979.2 434.95,980.68 435.17,982.16 435.38,983.65 435.6,985.13 435.81,986.61 436.03,988.09 436.24,989.57 436.45,991.05 436.67,992.53 436.88,994.01 437.1,995.5 437.31,996.98 437.52,998.46 437.74,999.94 437.95,1001.42 438.17,1002.9 438.38,1004.39 438.59,1005.87 438.81,1007.35 439.02,1008.83 439.23,1010.32 439.45,1011.8 439.66,1013.28 439.87,1014.76 440.09,1016.25 440.3,1017.73 440.51,1019.21 440.72,1020.7 440.94,1022.18 441.15,1023.66 441.36,1025.15 441.57,1026.63 441.79,1028.11 442,1029.6 442.21,1031.08 442.42,1032.57 442.63,1034.05 442.85,1035.54 443.06,1037.02 443.27,1038.51 443.48,1039.99 443.7,1041.48 443.91,1042.96 444.12,1044.45 444.34,1045.93 444.55,1047.42 444.77,1048.91 444.99,1050.39 445.21,1051.88 445.43,1053.36 445.65,1054.85 445.87,1056.34 446.09,1057.82 446.32,1059.31 446.54,1060.79 446.77,1062.28 447,1063.77 447.24,1065.25 447.47,1066.74 447.71,1068.23 447.95,1069.71 448.19,1071.2 448.43,1072.69 448.68,1074.17 448.93,1075.66 449.18,1077.14 449.43,1078.63 449.69,1080.12 449.95,1081.6 450.21,1083.09 450.48,1084.58 450.75,1086.06 451.02,1087.55 451.3,1089.03 451.58,1090.52 451.86,1092 452.15,1093.49 452.44,1094.98 452.74,1096.46 453.04,1097.95 453.34,1099.43 453.65,1100.92 453.97,1102.4 454.28,1103.89 454.6,1105.37 454.93,1106.85 455.26,1108.34 455.6,1109.82 455.94,1111.31 456.29,1112.79 456.64,1114.27 456.99,1115.76 457.36,1117.24 457.72,1118.72 458.1,1120.2 458.48,1121.68 458.87,1123.16 459.27,1124.63 459.68,1126.09 460.11,1127.54 460.56,1128.98 461.03,1130.4 461.52,1131.81 462.04,1133.19 462.58,1134.56 463.15,1135.9 463.76,1137.21 464.39,1138.5 465.06,1139.76 465.77,1140.98 466.52,1142.17 467.31,1143.32 468.15,1144.43 469.03,1145.51 469.96,1146.53 470.94,1147.52 471.97,1148.45 473.06,1149.34 474.2,1150.17 475.38,1150.97 476.6,1151.72 477.86,1152.43 479.15,1153.11 480.46,1153.75 481.8,1154.37 483.14,1154.97 484.5,1155.54 485.86,1156.08 487.23,1156.61 488.61,1157.12 490,1157.61 491.39,1158.07 492.79,1158.52 494.2,1158.95 495.62,1159.36 497.04,1159.75 498.47,1160.12 499.91,1160.48 501.35,1160.82 502.8,1161.14 504.26,1161.45 505.72,1161.74 507.18,1162.02 508.65,1162.28 510.13,1162.53 511.61,1162.77 513.09,1162.99 514.58,1163.2 516.08,1163.4 517.58,1163.59 519.08,1163.76 520.58,1163.92 522.09,1164.08 523.61,1164.22 525.12,1164.35 526.64,1164.48 528.16,1164.6 529.69,1164.7 531.21,1164.8 532.74,1164.9 534.27,1164.98 535.8,1165.06 537.33,1165.14 538.87,1165.21 540.4,1165.27 541.94,1165.33 543.48,1165.38 545.01,1165.44 546.55,1165.48 548.09,1165.53 549.63,1165.57 551.17,1165.61 552.7,1165.65 554.24,1165.69 555.77,1165.73 557.31,1165.77 558.84,1165.81 560.37,1165.85 561.9,1165.89 563.43,1165.93 564.96,1165.97 566.49,1166.02 568.01,1166.06 569.53,1166.11 571.05,1166.16 572.57,1166.21 574.09,1166.26 575.61,1166.31 577.12,1166.36 578.63,1166.41 580.15,1166.47 581.66,1166.52 583.17,1166.58 584.68,1166.63 586.18,1166.69 587.69,1166.75 589.2,1166.8 590.7,1166.86 592.2,1166.92 593.71,1166.98 595.21,1167.05 596.71,1167.11 598.21,1167.17 599.7,1167.23 601.2,1167.3 602.7,1167.36 604.19,1167.42 605.69,1167.49 607.18,1167.55 608.67,1167.62 610.17,1167.68 611.66,1167.75 613.15,1167.82 614.64,1167.88 616.13,1167.95 617.62,1168.02 619.1,1168.08 620.59,1168.15 622.08,1168.22 623.57,1168.28 625.05,1168.35 626.54,1168.42 628.02,1168.48 629.51,1168.55 630.99,1168.62 632.48,1168.69 633.96,1168.75 635.44,1168.82 636.93,1168.89 638.41,1168.95 639.89,1169.02 641.38,1169.08 642.86,1169.15 644.34,1169.21 645.82,1169.28 647.31,1169.34 648.79,1169.41 650.27,1169.47 651.75,1169.53 653.24,1169.59 654.72,1169.66 656.2,1169.72 657.69,1169.78 659.17,1169.84 660.65,1169.9 662.14,1169.95 663.62,1170.01 665.1,1170.07 666.59,1170.13 668.07,1170.18 669.56,1170.23 671.04,1170.29 672.53,1170.34 674.02,1170.39 675.5,1170.44 676.99,1170.49 678.48,1170.54 679.97,1170.59 681.45,1170.64 682.94,1170.68 684.43,1170.73 685.92,1170.77 687.42,1170.81 688.91,1170.86 690.4,1170.9 691.89,1170.94 693.38,1170.98 694.88,1171.02 696.37,1171.05 697.87,1171.09 699.36,1171.12 700.86,1171.16 702.35,1171.19 703.85,1171.23 705.34,1171.26 706.84,1171.29 708.34,1171.32 709.83,1171.35 711.33,1171.38 712.83,1171.41 714.33,1171.44 715.83,1171.47 717.33,1171.49 718.83,1171.52 720.33,1171.54 721.83,1171.57 723.33,1171.59 724.83,1171.62 726.33,1171.64 727.83,1171.66 729.33,1171.68 730.83,1171.7 732.34,1171.72 733.84,1171.74 735.34,1171.76 736.84,1171.78 738.35,1171.8 739.85,1171.82 741.35,1171.83 742.86,1171.85 744.36,1171.87 745.87,1171.88 747.37,1171.9 748.88,1171.91 750.38,1171.93 751.89,1171.94 753.39,1171.95 754.9,1171.97 756.4,1171.98 757.91,1171.99 759.41,1172 760.92,1172.02 762.42,1172.03 763.93,1172.04 765.44,1172.05 766.94,1172.06 768.45,1172.07 769.95,1172.08 771.46,1172.09 772.97,1172.1 774.47,1172.11 775.98,1172.12 777.49,1172.13 778.99,1172.14 780.5,1172.15 782.01,1172.15 783.51,1172.16 785.02,1172.17 786.53,1172.18 788.03,1172.19 789.54,1172.2 791.05,1172.2 792.55,1172.21 794.06,1172.22 795.56,1172.23 797.07,1172.23 798.58,1172.24 800.08,1172.25 801.59,1172.26 803.09,1172.27 804.6,1172.27 806.11,1172.28 807.61,1172.29 809.12,1172.3 810.62,1172.3 812.13,1172.31 813.63,1172.32 815.14,1172.33 816.64,1172.34 818.15,1172.35 819.65,1172.36 821.15,1172.36 822.66,1172.37 824.16,1172.38 825.67,1172.39 827.17,1172.4 828.67,1172.41 830.17,1172.42 831.68,1172.43 833.18,1172.44 834.68,1172.45 836.18,1172.47 837.68,1172.48 839.19,1172.49 840.69,1172.5 842.19,1172.52 843.69,1172.53 845.19,1172.54 846.69,1172.56 848.19,1172.57 849.69,1172.58 851.18,1172.6 852.68,1172.62 854.18,1172.63 855.68,1172.65 857.18,1172.66 858.67,1172.68 860.17,1172.7 861.66,1172.72 863.16,1172.74 864.66,1172.76 866.15,1172.78 867.64,1172.8 869.14,1172.82 870.63,1172.84 872.13,1172.86 873.62,1172.89 875.11,1172.91 876.6,1172.93 878.09,1172.96 879.58,1172.98 881.07,1173.01 882.56,1173.04 884.05,1173.07 885.54,1173.09 887.03,1173.12 888.52,1173.15 890,1173.18 891.49,1173.21 892.98,1173.25 894.46,1173.28 895.95,1173.31 897.43,1173.35 898.91,1173.38 900.4,1173.42 901.88,1173.46 903.36,1173.5" stroke="#ff00ff" stroke-width="1.5" fill="none" stroke-dasharray="9.4 3.9"/>
<rect x="797.4" y="653.6" width="110" height="72" fill="#fff" stroke="#6a6a6a" stroke-width="1.6"/>
<path d="M805.9,668.2H860.3" stroke="#555" stroke-width="1.5" stroke-opacity="0.75"/>
<text x="872.3" y="671.9" class="lg" style="fill:#333">SPS</text>
<path d="M805.9,683.7H852.3" stroke="#ff0000" stroke-width="1.5" stroke-opacity="0.75" stroke-dasharray="15.4 3.8"/>
<text x="872.3" y="687.4" class="lg" style="fill:#ff2020">S15</text>
<path d="M805.9,699.2H851.5" stroke="#0000ff" stroke-width="1.5" stroke-opacity="0.75" stroke-dasharray="38.7 5.5 1.2 5.5"/>
<text x="872.3" y="702.9" class="lg" style="fill:#2020ff">S30</text>
<path d="M805.9,714.7H848.2" stroke="#ff00ff" stroke-width="1.5" stroke-opacity="0.75" stroke-dasharray="7.6 3.8"/>
<text x="872.3" y="718.4" class="lg" style="fill:#ff20ff">S45</text>
<text transform="translate(713.4,719.2) scale(0.9,1)" class="big" style="font-size:34px">B</text>
<path d="M487,1062.8L473.76,1071.27" stroke="#000" stroke-width="2.2"/><path d="M464.5,1077.2L472.11,1064.97L478.79,1075.41Z" fill="#000"/>
<path d="M531.6,1086.7L482.43,1118.52" stroke="#000" stroke-width="2.2"/><path d="M473.2,1124.5L480.74,1112.23L487.48,1122.64Z" fill="#000"/>
<path d="M599.5,1097.3L527.24,1145.68" stroke="#000" stroke-width="2.2"/><path d="M518.1,1151.8L525.45,1139.42L532.35,1149.72Z" fill="#000"/>
<path d="M660.5,1117.8L593.62,1161.39" stroke="#000" stroke-width="2.2"/><path d="M584.4,1167.4L591.91,1155.11L598.68,1165.5Z" fill="#000"/>
<text x="504.6" y="1054.1" class="an" textLength="25.1" lengthAdjust="spacingAndGlyphs">SPS</text>
<text x="549.1" y="1079.9" class="an" textLength="25.8" lengthAdjust="spacingAndGlyphs">S15</text>
<text x="617.1" y="1089.8" class="an" textLength="25.8" lengthAdjust="spacingAndGlyphs">S30</text>
<text x="678.7" y="1110.9" class="an" textLength="25.1" lengthAdjust="spacingAndGlyphs">S45</text>
<path d="M96.4,1819.5H104.4M100.9,1791.6H104.4M100.9,1763.7H104.4M100.9,1735.8H104.4M96.4,1707.9H104.4M100.9,1680H104.4M100.9,1652.1H104.4M100.9,1624.2H104.4M96.4,1596.3H104.4M100.9,1568.4H104.4M100.9,1540.5H104.4M100.9,1512.6H104.4M96.4,1484.7H104.4M100.9,1456.8H104.4M100.9,1428.9H104.4M100.9,1401H104.4M96.4,1373.1H104.4M100.9,1345.2H104.4M100.9,1317.3H104.4M100.9,1289.4H104.4M96.4,1261.5H104.4M104.4,1819.5V1826.5M154.71,1819.5V1823M205.03,1819.5V1823M255.34,1819.5V1823M305.65,1819.5V1826.5M355.96,1819.5V1823M406.27,1819.5V1823M456.59,1819.5V1823M506.9,1819.5V1826.5M557.21,1819.5V1823M607.53,1819.5V1823M657.84,1819.5V1823M708.15,1819.5V1826.5M758.46,1819.5V1823M808.78,1819.5V1823M859.09,1819.5V1823M909.4,1819.5V1826.5" stroke="#6a6a6a" stroke-width="1.6" fill="none"/>
<rect x="104.4" y="1261.5" width="805" height="558" stroke="#6a6a6a" stroke-width="1.8" fill="none"/>
<text x="92.8" y="1825" text-anchor="end" class="tl">0</text>
<text x="92.8" y="1713.4" text-anchor="end" class="tl">20</text>
<text x="92.8" y="1601.8" text-anchor="end" class="tl">40</text>
<text x="92.8" y="1490.2" text-anchor="end" class="tl">60</text>
<text x="92.8" y="1378.6" text-anchor="end" class="tl">80</text>
<text x="92.8" y="1267" text-anchor="end" class="tl">100</text>
<text x="104.7" y="1840" text-anchor="middle" class="tl">0</text>
<text x="305.95" y="1840" text-anchor="middle" class="tl">200</text>
<text x="507.2" y="1840" text-anchor="middle" class="tl">400</text>
<text x="708.45" y="1840" text-anchor="middle" class="tl">600</text>
<text x="909.7" y="1840" text-anchor="middle" class="tl">800</text>
<text transform="translate(43.4,1585.7) rotate(-90)" class="at" textLength="90.8" lengthAdjust="spacingAndGlyphs">Weight (%)</text>
<text x="441.7" y="1866.9" class="tt" textLength="135.6" lengthAdjust="spacingAndGlyphs">Temperature (°C)</text>
<text x="997.7" y="1863.2" text-anchor="end" class="ut">Universal V4.5A TA Instruments</text>
<path d="M130.23,1264.41 131.73,1264.61 133.23,1264.81 134.72,1265.03 136.21,1265.26 137.7,1265.51 139.19,1265.76 140.67,1266.02 142.15,1266.29 143.62,1266.58 145.1,1266.87 146.57,1267.17 148.03,1267.48 149.5,1267.81 150.96,1268.14 152.41,1268.48 153.87,1268.83 155.32,1269.18 156.77,1269.55 158.22,1269.92 159.66,1270.31 161.1,1270.7 162.54,1271.1 163.98,1271.5 165.42,1271.92 166.85,1272.34 168.28,1272.77 169.71,1273.2 171.13,1273.64 172.56,1274.09 173.98,1274.55 175.4,1275.01 176.82,1275.48 178.23,1275.95 179.65,1276.43 181.06,1276.92 182.47,1277.41 183.88,1277.9 185.29,1278.41 186.69,1278.91 188.1,1279.42 189.5,1279.94 190.9,1280.46 192.3,1280.98 193.7,1281.51 195.1,1282.04 196.5,1282.58 197.9,1283.12 199.29,1283.66 200.68,1284.21 202.08,1284.76 203.47,1285.31 204.86,1285.87 206.25,1286.43 207.64,1286.99 209.03,1287.55 210.42,1288.11 211.81,1288.68 213.2,1289.25 214.58,1289.82 215.97,1290.39 217.36,1290.96 218.74,1291.53 220.13,1292.11 221.51,1292.68 222.9,1293.26 224.29,1293.83 225.67,1294.41 227.06,1294.98 228.44,1295.56 229.83,1296.13 231.21,1296.71 232.6,1297.28 233.99,1297.86 235.37,1298.43 236.76,1299 238.15,1299.57 239.54,1300.14 240.93,1300.7 242.32,1301.27 243.71,1301.83 245.1,1302.39 246.49,1302.95 247.88,1303.5 249.28,1304.06 250.67,1304.61 252.07,1305.15 253.46,1305.69 254.86,1306.23 256.26,1306.77 257.66,1307.3 259.06,1307.83 260.47,1308.36 261.87,1308.88 263.28,1309.39 264.68,1309.9 266.09,1310.41 267.5,1310.91 268.92,1311.41 270.33,1311.9 271.75,1312.38 273.16,1312.86 274.58,1313.34 276,1313.81 277.43,1314.27 278.85,1314.72 280.28,1315.17 281.71,1315.61 283.14,1316.05 284.58,1316.48 286.01,1316.9 287.45,1317.31 288.89,1317.72 290.34,1318.12 291.78,1318.51 293.23,1318.89 294.68,1319.27 296.13,1319.64 297.59,1320.01 299.04,1320.36 300.5,1320.71 301.96,1321.06 303.42,1321.4 304.88,1321.73 306.35,1322.05 307.81,1322.37 309.28,1322.69 310.74,1323 312.21,1323.3 313.68,1323.6 315.15,1323.89 316.62,1324.18 318.09,1324.47 319.56,1324.75 321.03,1325.02 322.5,1325.29 323.97,1325.56 325.45,1325.82 326.92,1326.08 328.39,1326.34 329.86,1326.59 331.33,1326.84 332.8,1327.09 334.27,1327.33 335.74,1327.57 337.21,1327.8 338.67,1328.04 340.14,1328.27 341.61,1328.5 343.07,1328.73 344.53,1328.95 346,1329.18 347.46,1329.4 348.91,1329.62 350.37,1329.84 351.83,1330.05 353.28,1330.27 354.73,1330.48 356.18,1330.7 357.63,1330.91 359.07,1331.13 360.51,1331.35 361.95,1331.59 363.38,1331.84 364.8,1332.1 366.22,1332.39 367.62,1332.71 369.02,1333.06 370.4,1333.44 371.78,1333.85 373.13,1334.3 374.47,1334.79 375.8,1335.32 377.1,1335.9 378.38,1336.52 379.64,1337.19 380.88,1337.91 382.09,1338.68 383.27,1339.5 384.43,1340.37 385.57,1341.28 386.67,1342.23 387.75,1343.23 388.8,1344.25 389.82,1345.31 390.82,1346.41 391.79,1347.53 392.72,1348.67 393.63,1349.85 394.51,1351.04 395.36,1352.25 396.18,1353.48 396.97,1354.73 397.73,1356 398.47,1357.28 399.18,1358.57 399.87,1359.88 400.53,1361.2 401.17,1362.53 401.79,1363.87 402.39,1365.21 402.96,1366.57 403.52,1367.93 404.06,1369.29 404.57,1370.66 405.07,1372.03 405.56,1373.41 406.03,1374.79 406.48,1376.17 406.91,1377.56 407.33,1378.96 407.74,1380.36 408.13,1381.77 408.51,1383.18 408.88,1384.59 409.24,1386.02 409.58,1387.44 409.92,1388.88 410.24,1390.31 410.56,1391.75 410.86,1393.2 411.15,1394.64 411.44,1396.09 411.72,1397.55 411.99,1399 412.25,1400.45 412.51,1401.91 412.76,1403.37 413,1404.82 413.24,1406.28 413.47,1407.73 413.7,1409.19 413.92,1410.64 414.14,1412.09 414.35,1413.54 414.57,1414.98 414.78,1416.42 414.98,1417.86 415.19,1419.3 415.39,1420.74 415.6,1422.17 415.8,1423.61 416.01,1425.04 416.21,1426.47 416.41,1427.91 416.62,1429.34 416.82,1430.78 417.03,1432.22 417.23,1433.66 417.44,1435.1 417.64,1436.55 417.85,1438 418.05,1439.45 418.26,1440.9 418.47,1442.35 418.67,1443.81 418.88,1445.27 419.09,1446.73 419.29,1448.2 419.5,1449.66 419.71,1451.13 419.92,1452.6 420.12,1454.08 420.33,1455.55 420.53,1457.03 420.74,1458.51 420.94,1459.99 421.15,1461.47 421.35,1462.96 421.55,1464.44 421.75,1465.93 421.95,1467.41 422.15,1468.9 422.34,1470.39 422.54,1471.88 422.73,1473.37 422.92,1474.86 423.11,1476.35 423.3,1477.85 423.49,1479.34 423.67,1480.83 423.85,1482.32 424.03,1483.81 424.21,1485.31 424.38,1486.8 424.55,1488.29 424.72,1489.78 424.88,1491.27 425.05,1492.76 425.21,1494.25 425.37,1495.74 425.53,1497.23 425.68,1498.72 425.84,1500.2 425.99,1501.69 426.14,1503.18 426.29,1504.67 426.43,1506.16 426.58,1507.64 426.72,1509.13 426.86,1510.62 427.01,1512.11 427.15,1513.59 427.29,1515.08 427.42,1516.57 427.56,1518.05 427.7,1519.54 427.83,1521.03 427.97,1522.52 428.1,1524 428.24,1525.49 428.37,1526.98 428.51,1528.47 428.64,1529.96 428.77,1531.44 428.91,1532.93 429.04,1534.42 429.17,1535.91 429.31,1537.4 429.44,1538.89 429.58,1540.38 429.71,1541.87 429.85,1543.36 429.99,1544.85 430.12,1546.34 430.26,1547.83 430.4,1549.32 430.54,1550.81 430.68,1552.31 430.82,1553.8 430.96,1555.29 431.1,1556.78 431.24,1558.27 431.39,1559.77 431.53,1561.26 431.68,1562.75 431.82,1564.25 431.97,1565.74 432.12,1567.23 432.27,1568.72 432.42,1570.22 432.57,1571.71 432.72,1573.2 432.87,1574.7 433.03,1576.19 433.18,1577.68 433.34,1579.17 433.5,1580.67 433.66,1582.16 433.82,1583.65 433.98,1585.14 434.14,1586.63 434.31,1588.12 434.47,1589.62 434.64,1591.11 434.81,1592.6 434.98,1594.09 435.15,1595.58 435.33,1597.07 435.5,1598.56 435.68,1600.05 435.85,1601.53 436.03,1603.02 436.22,1604.51 436.4,1606 436.58,1607.49 436.77,1608.97 436.96,1610.46 437.15,1611.94 437.34,1613.43 437.53,1614.91 437.73,1616.4 437.92,1617.88 438.12,1619.36 438.32,1620.85 438.53,1622.33 438.73,1623.81 438.94,1625.29 439.15,1626.77 439.36,1628.25 439.57,1629.73 439.79,1631.2 440.01,1632.68 440.23,1634.16 440.45,1635.63 440.67,1637.11 440.9,1638.58 441.13,1640.06 441.36,1641.53 441.59,1643.01 441.83,1644.48 442.07,1645.96 442.31,1647.43 442.55,1648.91 442.8,1650.39 443.05,1651.87 443.3,1653.35 443.56,1654.83 443.82,1656.32 444.08,1657.81 444.35,1659.29 444.61,1660.79 444.89,1662.28 445.16,1663.77 445.44,1665.27 445.72,1666.77 446.02,1668.27 446.32,1669.77 446.64,1671.26 446.97,1672.75 447.32,1674.22 447.69,1675.69 448.09,1677.15 448.51,1678.59 448.96,1680.02 449.44,1681.44 449.95,1682.83 450.5,1684.21 451.08,1685.56 451.71,1686.89 452.37,1688.2 453.08,1689.48 453.83,1690.73 454.61,1691.97 455.43,1693.17 456.29,1694.36 457.18,1695.52 458.11,1696.65 459.06,1697.76 460.05,1698.85 461.07,1699.91 462.12,1700.95 463.19,1701.97 464.29,1702.96 465.42,1703.93 466.57,1704.88 467.74,1705.8 468.94,1706.7 470.15,1707.57 471.39,1708.42 472.64,1709.25 473.91,1710.06 475.2,1710.84 476.5,1711.6 477.82,1712.33 479.14,1713.05 480.48,1713.74 481.83,1714.4 483.19,1715.05 484.56,1715.67 485.94,1716.28 487.32,1716.86 488.71,1717.43 490.11,1717.97 491.52,1718.5 492.94,1719.01 494.36,1719.5 495.78,1719.98 497.22,1720.45 498.65,1720.9 500.1,1721.33 501.54,1721.75 502.99,1722.17 504.45,1722.57 505.9,1722.95 507.36,1723.33 508.83,1723.7 510.29,1724.07 511.76,1724.42 513.22,1724.77 514.69,1725.11 516.16,1725.44 517.62,1725.77 519.09,1726.1 520.56,1726.42 522.02,1726.74 523.48,1727.06 524.95,1727.38 526.4,1727.69 527.86,1728.01 529.31,1728.33 530.76,1728.65 532.2,1728.97 533.65,1729.29 535.09,1729.61 536.53,1729.93 537.96,1730.25 539.4,1730.57 540.83,1730.89 542.27,1731.2 543.7,1731.52 545.14,1731.83 546.57,1732.15 548.01,1732.46 549.44,1732.77 550.88,1733.07 552.31,1733.38 553.75,1733.68 555.19,1733.98 556.63,1734.28 558.07,1734.58 559.51,1734.88 560.95,1735.18 562.39,1735.48 563.83,1735.78 565.27,1736.08 566.71,1736.37 568.15,1736.67 569.59,1736.96 571.03,1737.26 572.47,1737.55 573.91,1737.84 575.35,1738.13 576.79,1738.42 578.23,1738.7 579.67,1738.98 581.12,1739.26 582.56,1739.54 584,1739.82 585.44,1740.09 586.88,1740.36 588.33,1740.63 589.77,1740.9 591.21,1741.16 592.66,1741.43 594.1,1741.69 595.55,1741.95 597,1742.22 598.45,1742.48 599.9,1742.74 601.35,1743.01 602.8,1743.27 604.25,1743.54 605.71,1743.8 607.16,1744.07 608.62,1744.34 610.07,1744.61 611.53,1744.89 612.98,1745.17 614.44,1745.45 615.9,1745.73 617.35,1746.02 618.81,1746.31 620.26,1746.61 621.72,1746.91 623.17,1747.22 624.63,1747.53 626.08,1747.85 627.53,1748.17 628.98,1748.49 630.43,1748.82 631.89,1749.16 633.34,1749.5 634.79,1749.84 636.23,1750.18 637.68,1750.53 639.13,1750.89 640.58,1751.24 642.02,1751.61 643.47,1751.97 644.92,1752.34 646.36,1752.71 647.81,1753.09 649.25,1753.47 650.69,1753.85 652.14,1754.23 653.58,1754.62 655.02,1755.01 656.46,1755.4 657.9,1755.8 659.34,1756.2 660.78,1756.6 662.22,1757.01 663.65,1757.41 665.09,1757.82 666.53,1758.23 667.97,1758.64 669.4,1759.05 670.84,1759.47 672.27,1759.89 673.71,1760.3 675.14,1760.72 676.58,1761.14 678.01,1761.57 679.44,1761.99 680.88,1762.41 682.31,1762.83 683.74,1763.26 685.17,1763.68 686.61,1764.11 688.04,1764.53 689.47,1764.96 690.9,1765.38 692.33,1765.81 693.76,1766.23 695.19,1766.66 696.62,1767.08 698.05,1767.51 699.48,1767.93 700.91,1768.35 702.34,1768.77 703.77,1769.19 705.2,1769.61 706.63,1770.03 708.06,1770.44 709.49,1770.86 710.92,1771.27 712.35,1771.69 713.77,1772.1 715.2,1772.51 716.63,1772.92 718.06,1773.33 719.49,1773.74 720.92,1774.15 722.35,1774.55 723.77,1774.96 725.2,1775.36 726.63,1775.76 728.06,1776.16 729.49,1776.56 730.92,1776.96 732.34,1777.35 733.77,1777.75 735.2,1778.14 736.63,1778.53 738.06,1778.92 739.49,1779.31 740.92,1779.7 742.34,1780.08 743.77,1780.46 745.2,1780.84 746.63,1781.22 748.06,1781.6 749.49,1781.97 750.92,1782.35 752.35,1782.72 753.79,1783.08 755.22,1783.45 756.65,1783.81 758.09,1784.17 759.52,1784.53 760.96,1784.88 762.4,1785.23 763.84,1785.58 765.28,1785.92 766.72,1786.27 768.16,1786.6 769.61,1786.94 771.05,1787.27 772.5,1787.59 773.95,1787.92 775.4,1788.24 776.86,1788.55 778.31,1788.86 779.77,1789.17 781.23,1789.47 782.69,1789.77 784.15,1790.07 785.61,1790.36 787.08,1790.65 788.54,1790.93 790.01,1791.21 791.48,1791.49 792.95,1791.77 794.42,1792.04 795.89,1792.3 797.36,1792.57 798.84,1792.83 800.31,1793.09 801.79,1793.34 803.26,1793.59 804.74,1793.84 806.21,1794.08 807.69,1794.33 809.16,1794.56 810.64,1794.8 812.12,1795.03 813.59,1795.26 815.07,1795.49 816.55,1795.72 818.03,1795.94 819.5,1796.16 820.98,1796.37 822.46,1796.59 823.94,1796.8 825.42,1797.01 826.9,1797.22 828.38,1797.42 829.86,1797.62 831.34,1797.82 832.82,1798.02 834.3,1798.22 835.78,1798.41 837.26,1798.6 838.74,1798.79 840.22,1798.98 841.7,1799.16 843.18,1799.35 844.67,1799.53 846.15,1799.71 847.63,1799.89 849.11,1800.06 850.6,1800.24 852.08,1800.41 853.57,1800.58 855.05,1800.75 856.53,1800.92 858.02,1801.09 859.5,1801.25 860.99,1801.42 862.48,1801.58 863.96,1801.74 865.45,1801.9 866.93,1802.06 868.42,1802.22 869.91,1802.38 871.4,1802.54 872.89,1802.69 874.37,1802.85 875.86,1803 877.35,1803.15 878.84,1803.31 880.33,1803.46 881.82,1803.61 883.31,1803.76 884.8,1803.91 886.29,1804.06 887.79,1804.21 889.28,1804.36 890.77,1804.5 892.26,1804.65 893.76,1804.8 895.25,1804.95 896.75,1805.09 898.24,1805.24 899.73,1805.39 901.23,1805.53 902.73,1805.68 904.22,1805.83 905.72,1805.97" stroke="#111" stroke-width="1.5" fill="none"/>
<path d="M129.71,1262.98 131.24,1262.88 132.77,1262.8 134.3,1262.73 135.83,1262.67 137.35,1262.63 138.87,1262.6 140.39,1262.58 141.9,1262.58 143.42,1262.59 144.93,1262.61 146.44,1262.65 147.95,1262.7 149.45,1262.76 150.95,1262.83 152.46,1262.92 153.95,1263.01 155.45,1263.12 156.95,1263.24 158.44,1263.37 159.93,1263.51 161.42,1263.67 162.9,1263.83 164.39,1264.01 165.87,1264.19 167.35,1264.39 168.83,1264.59 170.31,1264.81 171.78,1265.03 173.26,1265.27 174.73,1265.51 176.2,1265.77 177.67,1266.03 179.14,1266.3 180.6,1266.58 182.06,1266.87 183.53,1267.17 184.99,1267.48 186.44,1267.79 187.9,1268.12 189.36,1268.45 190.81,1268.78 192.26,1269.13 193.72,1269.48 195.16,1269.84 196.61,1270.21 198.06,1270.59 199.51,1270.97 200.95,1271.36 202.39,1271.75 203.83,1272.15 205.27,1272.56 206.71,1272.97 208.15,1273.39 209.59,1273.81 211.02,1274.24 212.46,1274.67 213.89,1275.11 215.32,1275.56 216.75,1276.01 218.18,1276.46 219.61,1276.92 221.04,1277.38 222.47,1277.85 223.89,1278.32 225.32,1278.79 226.74,1279.27 228.17,1279.75 229.59,1280.23 231.01,1280.72 232.43,1281.21 233.85,1281.7 235.27,1282.2 236.69,1282.7 238.1,1283.2 239.52,1283.7 240.94,1284.2 242.35,1284.71 243.77,1285.22 245.18,1285.73 246.6,1286.24 248.01,1286.75 249.42,1287.26 250.83,1287.78 252.24,1288.29 253.66,1288.8 255.07,1289.32 256.48,1289.83 257.89,1290.35 259.29,1290.86 260.7,1291.38 262.11,1291.89 263.52,1292.4 264.93,1292.92 266.34,1293.43 267.74,1293.94 269.15,1294.45 270.56,1294.95 271.96,1295.46 273.37,1295.96 274.78,1296.46 276.18,1296.96 277.59,1297.46 279,1297.96 280.4,1298.45 281.81,1298.94 283.22,1299.43 284.62,1299.91 286.03,1300.39 287.44,1300.87 288.85,1301.35 290.26,1301.82 291.67,1302.3 293.08,1302.77 294.49,1303.23 295.91,1303.7 297.32,1304.16 298.74,1304.61 300.16,1305.07 301.58,1305.52 303,1305.97 304.43,1306.42 305.85,1306.86 307.28,1307.3 308.71,1307.74 310.14,1308.18 311.58,1308.61 313.01,1309.04 314.45,1309.46 315.89,1309.88 317.34,1310.3 318.79,1310.72 320.23,1311.13 321.68,1311.55 323.14,1311.97 324.59,1312.39 326.04,1312.81 327.49,1313.23 328.94,1313.66 330.39,1314.1 331.84,1314.54 333.29,1314.99 334.73,1315.45 336.18,1315.91 337.61,1316.39 339.05,1316.87 340.48,1317.37 341.9,1317.88 343.31,1318.4 344.72,1318.93 346.12,1319.48 347.52,1320.04 348.9,1320.62 350.27,1321.21 351.64,1321.82 352.99,1322.45 354.33,1323.09 355.66,1323.75 356.98,1324.43 358.28,1325.14 359.56,1325.86 360.84,1326.6 362.09,1327.36 363.33,1328.15 364.56,1328.96 365.76,1329.79 366.95,1330.65 368.12,1331.54 369.27,1332.45 370.4,1333.38 371.51,1334.34 372.6,1335.33 373.67,1336.34 374.72,1337.37 375.75,1338.43 376.77,1339.51 377.76,1340.6 378.74,1341.72 379.7,1342.86 380.65,1344.02 381.58,1345.19 382.49,1346.38 383.38,1347.59 384.26,1348.81 385.12,1350.04 385.97,1351.29 386.8,1352.55 387.62,1353.83 388.42,1355.11 389.21,1356.41 389.98,1357.71 390.74,1359.02 391.49,1360.34 392.22,1361.67 392.94,1363 393.65,1364.34 394.35,1365.69 395.03,1367.04 395.7,1368.39 396.37,1369.74 397.02,1371.1 397.65,1372.46 398.28,1373.83 398.9,1375.2 399.5,1376.57 400.1,1377.94 400.68,1379.32 401.26,1380.7 401.82,1382.09 402.37,1383.47 402.92,1384.86 403.45,1386.26 403.97,1387.65 404.49,1389.05 404.99,1390.45 405.49,1391.86 405.97,1393.27 406.45,1394.68 406.92,1396.09 407.38,1397.51 407.83,1398.92 408.27,1400.34 408.71,1401.77 409.13,1403.19 409.55,1404.62 409.96,1406.05 410.36,1407.49 410.76,1408.92 411.15,1410.36 411.53,1411.8 411.9,1413.24 412.27,1414.68 412.63,1416.13 412.98,1417.58 413.33,1419.03 413.67,1420.48 414,1421.93 414.33,1423.39 414.65,1424.84 414.96,1426.3 415.27,1427.76 415.58,1429.23 415.88,1430.69 416.17,1432.16 416.46,1433.62 416.74,1435.09 417.02,1436.56 417.29,1438.03 417.56,1439.51 417.83,1440.98 418.09,1442.45 418.35,1443.93 418.6,1445.41 418.85,1446.89 419.09,1448.37 419.33,1449.85 419.57,1451.33 419.81,1452.81 420.04,1454.3 420.27,1455.78 420.49,1457.27 420.71,1458.75 420.93,1460.24 421.15,1461.73 421.37,1463.22 421.58,1464.71 421.79,1466.2 422,1467.69 422.21,1469.18 422.42,1470.67 422.62,1472.16 422.83,1473.65 423.03,1475.14 423.23,1476.64 423.43,1478.13 423.63,1479.62 423.83,1481.12 424.03,1482.61 424.23,1484.1 424.43,1485.6 424.63,1487.09 424.83,1488.58 425.03,1490.07 425.23,1491.57 425.43,1493.06 425.63,1494.55 425.83,1496.04 426.04,1497.53 426.24,1499.03 426.44,1500.52 426.65,1502.01 426.86,1503.5 427.06,1504.99 427.27,1506.48 427.48,1507.97 427.69,1509.46 427.9,1510.95 428.11,1512.43 428.32,1513.92 428.53,1515.41 428.74,1516.9 428.95,1518.39 429.16,1519.87 429.38,1521.36 429.59,1522.85 429.81,1524.33 430.02,1525.82 430.23,1527.31 430.45,1528.79 430.67,1530.28 430.88,1531.76 431.1,1533.25 431.32,1534.73 431.53,1536.21 431.75,1537.7 431.97,1539.18 432.19,1540.66 432.4,1542.15 432.62,1543.63 432.84,1545.11 433.06,1546.59 433.28,1548.08 433.5,1549.56 433.72,1551.04 433.94,1552.52 434.16,1554 434.37,1555.48 434.59,1556.96 434.81,1558.44 435.03,1559.92 435.25,1561.4 435.47,1562.88 435.69,1564.36 435.91,1565.84 436.13,1567.31 436.35,1568.79 436.57,1570.27 436.79,1571.75 437.01,1573.22 437.22,1574.7 437.44,1576.18 437.66,1577.65 437.88,1579.13 438.1,1580.61 438.31,1582.08 438.53,1583.56 438.75,1585.03 438.96,1586.51 439.18,1587.98 439.4,1589.45 439.61,1590.93 439.83,1592.4 440.04,1593.87 440.25,1595.35 440.47,1596.82 440.68,1598.29 440.89,1599.76 441.1,1601.24 441.32,1602.71 441.53,1604.18 441.74,1605.65 441.95,1607.12 442.16,1608.59 442.36,1610.06 442.57,1611.53 442.78,1613 442.99,1614.47 443.19,1615.94 443.4,1617.41 443.6,1618.88 443.81,1620.35 444.01,1621.81 444.21,1623.28 444.42,1624.75 444.62,1626.22 444.82,1627.69 445.02,1629.16 445.23,1630.64 445.43,1632.11 445.63,1633.58 445.83,1635.05 446.03,1636.53 446.24,1638 446.44,1639.48 446.64,1640.95 446.85,1642.43 447.05,1643.91 447.25,1645.39 447.46,1646.87 447.66,1648.35 447.87,1649.84 448.07,1651.32 448.28,1652.81 448.49,1654.3 448.69,1655.79 448.9,1657.28 449.11,1658.77 449.32,1660.27 449.53,1661.77 449.75,1663.27 449.96,1664.77 450.17,1666.27 450.39,1667.78 450.6,1669.29 450.82,1670.8 451.04,1672.31 451.26,1673.83 451.48,1675.34 451.71,1676.87 451.93,1678.39 452.16,1679.92 452.39,1681.44 452.62,1682.97 452.85,1684.51 453.09,1686.04 453.34,1687.57 453.59,1689.1 453.84,1690.63 454.11,1692.16 454.38,1693.68 454.66,1695.2 454.95,1696.72 455.25,1698.23 455.56,1699.74 455.88,1701.24 456.22,1702.74 456.57,1704.23 456.93,1705.71 457.31,1707.18 457.7,1708.65 458.11,1710.1 458.53,1711.55 458.97,1712.98 459.43,1714.41 459.91,1715.82 460.41,1717.22 460.93,1718.6 461.47,1719.97 462.04,1721.33 462.62,1722.67 463.23,1724 463.86,1725.31 464.52,1726.6 465.2,1727.88 465.91,1729.14 466.65,1730.38 467.41,1731.6 468.21,1732.8 469.03,1733.98 469.88,1735.13 470.76,1736.27 471.67,1737.39 472.61,1738.48 473.58,1739.55 474.58,1740.6 475.6,1741.62 476.65,1742.62 477.72,1743.6 478.82,1744.55 479.95,1745.48 481.09,1746.39 482.26,1747.26 483.46,1748.12 484.67,1748.95 485.91,1749.75 487.17,1750.53 488.44,1751.28 489.74,1752 491.06,1752.7 492.39,1753.37 493.74,1754.02 495.1,1754.65 496.48,1755.25 497.86,1755.83 499.26,1756.39 500.68,1756.93 502.09,1757.45 503.52,1757.95 504.95,1758.44 506.39,1758.9 507.83,1759.36 509.28,1759.79 510.73,1760.22 512.18,1760.62 513.63,1761.02 515.09,1761.4 516.55,1761.77 518.01,1762.12 519.47,1762.46 520.93,1762.79 522.4,1763.11 523.87,1763.42 525.34,1763.72 526.82,1764 528.29,1764.28 529.77,1764.54 531.25,1764.79 532.73,1765.04 534.21,1765.28 535.69,1765.5 537.18,1765.72 538.67,1765.94 540.15,1766.14 541.64,1766.34 543.13,1766.53 544.62,1766.71 546.12,1766.89 547.61,1767.06 549.1,1767.22 550.6,1767.39 552.09,1767.54 553.59,1767.69 555.09,1767.84 556.58,1767.98 558.08,1768.12 559.58,1768.26 561.08,1768.4 562.58,1768.53 564.07,1768.66 565.57,1768.79 567.07,1768.91 568.57,1769.04 570.07,1769.16 571.57,1769.29 573.07,1769.41 574.56,1769.53 576.06,1769.65 577.56,1769.77 579.06,1769.89 580.56,1770.01 582.05,1770.13 583.55,1770.24 585.05,1770.36 586.55,1770.47 588.05,1770.59 589.54,1770.7 591.04,1770.81 592.54,1770.92 594.04,1771.03 595.53,1771.14 597.03,1771.24 598.53,1771.35 600.03,1771.45 601.52,1771.56 603.02,1771.66 604.52,1771.76 606.02,1771.87 607.51,1771.97 609.01,1772.07 610.51,1772.16 612,1772.26 613.5,1772.36 615,1772.46 616.49,1772.55 617.99,1772.65 619.49,1772.74 620.98,1772.83 622.48,1772.92 623.98,1773.01 625.47,1773.1 626.97,1773.19 628.47,1773.28 629.96,1773.37 631.46,1773.46 632.96,1773.54 634.45,1773.63 635.95,1773.71 637.45,1773.8 638.94,1773.88 640.44,1773.96 641.93,1774.04 643.43,1774.12 644.93,1774.2 646.42,1774.28 647.92,1774.36 649.42,1774.43 650.91,1774.51 652.41,1774.59 653.9,1774.66 655.4,1774.74 656.9,1774.81 658.39,1774.88 659.89,1774.95 661.38,1775.03 662.88,1775.1 664.38,1775.17 665.87,1775.24 667.37,1775.3 668.86,1775.37 670.36,1775.44 671.85,1775.51 673.35,1775.57 674.85,1775.64 676.34,1775.7 677.84,1775.76 679.33,1775.83 680.83,1775.89 682.32,1775.95 683.82,1776.01 685.32,1776.07 686.81,1776.13 688.31,1776.19 689.8,1776.25 691.3,1776.31 692.79,1776.37 694.29,1776.42 695.78,1776.48 697.28,1776.54 698.78,1776.59 700.27,1776.65 701.77,1776.7 703.26,1776.75 704.76,1776.81 706.25,1776.86 707.75,1776.91 709.24,1776.96 710.74,1777.01 712.24,1777.06 713.73,1777.11 715.23,1777.16 716.72,1777.21 718.22,1777.26 719.71,1777.3 721.21,1777.35 722.71,1777.4 724.2,1777.44 725.7,1777.49 727.19,1777.53 728.69,1777.58 730.18,1777.62 731.68,1777.67 733.17,1777.71 734.67,1777.75 736.17,1777.79 737.66,1777.84 739.16,1777.88 740.65,1777.92 742.15,1777.96 743.65,1778 745.14,1778.04 746.64,1778.08 748.13,1778.12 749.63,1778.15 751.12,1778.19 752.62,1778.23 754.12,1778.27 755.61,1778.3 757.11,1778.34 758.6,1778.38 760.1,1778.41 761.6,1778.45 763.09,1778.48 764.59,1778.52 766.09,1778.55 767.58,1778.58 769.08,1778.62 770.57,1778.65 772.07,1778.68 773.57,1778.72 775.06,1778.75 776.56,1778.78 778.06,1778.81 779.55,1778.84 781.05,1778.88 782.55,1778.91 784.04,1778.94 785.54,1778.97 787.04,1779 788.53,1779.03 790.03,1779.06 791.53,1779.09 793.02,1779.12 794.52,1779.14 796.02,1779.17 797.51,1779.2 799.01,1779.23 800.51,1779.26 802,1779.28 803.5,1779.31 805,1779.34 806.5,1779.37 807.99,1779.39 809.49,1779.42 810.99,1779.45 812.49,1779.47 813.98,1779.5 815.48,1779.52 816.98,1779.55 818.48,1779.58 819.97,1779.6 821.47,1779.63 822.97,1779.65 824.47,1779.68 825.96,1779.7 827.46,1779.73 828.96,1779.75 830.46,1779.78 831.96,1779.8 833.46,1779.82 834.95,1779.85 836.45,1779.87 837.95,1779.9 839.45,1779.92 840.95,1779.95 842.45,1779.97 843.94,1779.99 845.44,1780.02 846.94,1780.04 848.44,1780.06 849.94,1780.09 851.44,1780.11 852.94,1780.13 854.44,1780.16 855.94,1780.18 857.44,1780.21 858.94,1780.23 860.43,1780.25 861.93,1780.28 863.43,1780.3 864.93,1780.32 866.43,1780.35 867.93,1780.37 869.43,1780.39 870.93,1780.42 872.43,1780.44 873.93,1780.46 875.43,1780.49 876.93,1780.51 878.43,1780.53 879.93,1780.56 881.44,1780.58 882.94,1780.61 884.44,1780.63 885.94,1780.65 887.44,1780.68 888.94,1780.7 890.44,1780.73 891.94,1780.75 893.44,1780.78 894.94,1780.8 896.45,1780.83 897.95,1780.85 899.45,1780.88 900.95,1780.9 902.45,1780.93 903.95,1780.95 905.46,1780.98" stroke="#ff0000" stroke-width="1.5" fill="none" stroke-dasharray="9.4 3.9"/>
<path d="M129.66,1263.03 131.21,1263.02 132.75,1263.02 134.29,1263.03 135.83,1263.06 137.37,1263.1 138.9,1263.15 140.42,1263.22 141.95,1263.3 143.47,1263.4 144.98,1263.51 146.5,1263.63 148,1263.76 149.51,1263.91 151.01,1264.06 152.51,1264.23 154.01,1264.42 155.5,1264.61 156.99,1264.82 158.47,1265.03 159.96,1265.26 161.44,1265.5 162.91,1265.75 164.38,1266.01 165.86,1266.29 167.32,1266.57 168.79,1266.86 170.25,1267.17 171.71,1267.48 173.16,1267.8 174.62,1268.14 176.07,1268.48 177.52,1268.83 178.96,1269.19 180.4,1269.56 181.84,1269.94 183.28,1270.33 184.72,1270.73 186.15,1271.13 187.58,1271.55 189.01,1271.97 190.44,1272.4 191.86,1272.84 193.28,1273.29 194.7,1273.74 196.12,1274.2 197.53,1274.67 198.95,1275.14 200.36,1275.63 201.77,1276.12 203.17,1276.61 204.58,1277.11 205.98,1277.62 207.39,1278.14 208.79,1278.66 210.18,1279.18 211.58,1279.71 212.98,1280.25 214.37,1280.8 215.76,1281.34 217.15,1281.9 218.54,1282.45 219.93,1283.02 221.32,1283.58 222.7,1284.16 224.09,1284.73 225.47,1285.31 226.85,1285.9 228.23,1286.48 229.61,1287.07 230.99,1287.67 232.37,1288.27 233.74,1288.87 235.12,1289.47 236.49,1290.08 237.87,1290.69 239.24,1291.3 240.61,1291.92 241.98,1292.53 243.35,1293.15 244.72,1293.77 246.09,1294.39 247.46,1295.02 248.83,1295.64 250.2,1296.27 251.56,1296.9 252.93,1297.53 254.3,1298.15 255.66,1298.78 257.03,1299.41 258.39,1300.05 259.76,1300.68 261.13,1301.31 262.49,1301.94 263.86,1302.57 265.22,1303.2 266.59,1303.83 267.95,1304.45 269.32,1305.08 270.68,1305.71 272.05,1306.33 273.41,1306.96 274.78,1307.58 276.15,1308.2 277.51,1308.82 278.88,1309.43 280.25,1310.05 281.62,1310.66 282.98,1311.27 284.35,1311.88 285.72,1312.49 287.09,1313.1 288.46,1313.7 289.83,1314.31 291.2,1314.91 292.57,1315.52 293.94,1316.12 295.31,1316.72 296.68,1317.32 298.05,1317.93 299.42,1318.53 300.79,1319.13 302.16,1319.73 303.53,1320.33 304.9,1320.93 306.27,1321.53 307.64,1322.13 309.01,1322.73 310.37,1323.33 311.74,1323.93 313.11,1324.54 314.48,1325.14 315.85,1325.74 317.22,1326.35 318.59,1326.95 319.96,1327.56 321.33,1328.17 322.69,1328.78 324.06,1329.39 325.43,1330 326.79,1330.62 328.15,1331.25 329.51,1331.88 330.85,1332.52 332.19,1333.17 333.52,1333.84 334.84,1334.52 336.14,1335.23 337.43,1335.95 338.7,1336.69 339.95,1337.46 341.18,1338.25 342.4,1339.07 343.58,1339.92 344.75,1340.8 345.89,1341.72 347,1342.67 348.08,1343.66 349.13,1344.68 350.16,1345.74 351.16,1346.83 352.14,1347.95 353.1,1349.1 354.04,1350.26 354.97,1351.45 355.88,1352.65 356.78,1353.87 357.67,1355.1 358.55,1356.34 359.43,1357.58 360.3,1358.82 361.17,1360.07 362.04,1361.31 362.91,1362.55 363.78,1363.79 364.65,1365.03 365.52,1366.26 366.39,1367.5 367.26,1368.73 368.12,1369.96 368.98,1371.2 369.84,1372.43 370.7,1373.66 371.55,1374.9 372.4,1376.14 373.25,1377.37 374.08,1378.62 374.92,1379.86 375.75,1381.11 376.57,1382.35 377.39,1383.61 378.19,1384.87 379,1386.13 379.79,1387.4 380.58,1388.67 381.36,1389.95 382.13,1391.23 382.89,1392.52 383.64,1393.81 384.39,1395.11 385.13,1396.41 385.86,1397.72 386.59,1399.03 387.3,1400.34 388.01,1401.66 388.71,1402.99 389.41,1404.32 390.09,1405.65 390.77,1406.99 391.44,1408.33 392.1,1409.68 392.76,1411.03 393.41,1412.38 394.05,1413.74 394.68,1415.1 395.3,1416.46 395.92,1417.83 396.53,1419.2 397.14,1420.58 397.73,1421.96 398.32,1423.34 398.9,1424.72 399.48,1426.11 400.04,1427.5 400.6,1428.89 401.15,1430.29 401.7,1431.69 402.24,1433.09 402.77,1434.5 403.29,1435.9 403.8,1437.31 404.31,1438.72 404.82,1440.14 405.31,1441.55 405.8,1442.97 406.28,1444.39 406.75,1445.82 407.22,1447.24 407.68,1448.67 408.13,1450.09 408.58,1451.52 409.02,1452.95 409.45,1454.39 409.88,1455.82 410.3,1457.26 410.71,1458.69 411.12,1460.13 411.52,1461.57 411.91,1463.02 412.3,1464.46 412.68,1465.9 413.06,1467.35 413.43,1468.8 413.79,1470.25 414.15,1471.7 414.51,1473.15 414.86,1474.6 415.2,1476.06 415.54,1477.51 415.87,1478.97 416.2,1480.42 416.52,1481.88 416.84,1483.34 417.16,1484.8 417.47,1486.27 417.77,1487.73 418.07,1489.19 418.37,1490.66 418.66,1492.13 418.95,1493.59 419.23,1495.06 419.51,1496.53 419.79,1498 420.06,1499.47 420.33,1500.94 420.6,1502.42 420.86,1503.89 421.12,1505.37 421.38,1506.84 421.63,1508.32 421.88,1509.79 422.13,1511.27 422.38,1512.75 422.62,1514.23 422.86,1515.71 423.09,1517.19 423.33,1518.67 423.56,1520.15 423.79,1521.63 424.02,1523.11 424.25,1524.6 424.47,1526.08 424.69,1527.56 424.91,1529.05 425.13,1530.53 425.35,1532.02 425.57,1533.5 425.78,1534.99 426,1536.47 426.21,1537.96 426.42,1539.44 426.63,1540.93 426.84,1542.42 427.05,1543.91 427.26,1545.39 427.47,1546.88 427.68,1548.37 427.89,1549.86 428.09,1551.34 428.3,1552.83 428.51,1554.32 428.72,1555.81 428.92,1557.29 429.13,1558.78 429.34,1560.27 429.55,1561.76 429.76,1563.24 429.97,1564.73 430.18,1566.22 430.39,1567.71 430.61,1569.19 430.82,1570.68 431.04,1572.17 431.25,1573.65 431.47,1575.14 431.69,1576.62 431.91,1578.11 432.13,1579.59 432.36,1581.08 432.58,1582.56 432.81,1584.05 433.04,1585.53 433.27,1587.01 433.5,1588.5 433.73,1589.98 433.96,1591.46 434.2,1592.95 434.43,1594.43 434.67,1595.91 434.91,1597.39 435.15,1598.87 435.39,1600.35 435.63,1601.83 435.87,1603.31 436.11,1604.79 436.36,1606.27 436.6,1607.75 436.85,1609.23 437.1,1610.71 437.35,1612.19 437.59,1613.66 437.85,1615.14 438.1,1616.62 438.35,1618.1 438.6,1619.57 438.85,1621.05 439.11,1622.52 439.36,1624 439.62,1625.47 439.88,1626.95 440.13,1628.42 440.39,1629.9 440.65,1631.37 440.91,1632.85 441.17,1634.32 441.43,1635.79 441.69,1637.27 441.95,1638.74 442.21,1640.21 442.48,1641.68 442.74,1643.15 443,1644.63 443.27,1646.1 443.53,1647.57 443.8,1649.04 444.06,1650.51 444.33,1651.98 444.59,1653.45 444.86,1654.92 445.12,1656.39 445.39,1657.85 445.66,1659.32 445.92,1660.79 446.19,1662.26 446.46,1663.72 446.72,1665.19 446.99,1666.66 447.26,1668.13 447.53,1669.6 447.79,1671.06 448.06,1672.53 448.33,1674 448.59,1675.47 448.86,1676.94 449.12,1678.41 449.39,1679.88 449.65,1681.36 449.92,1682.83 450.18,1684.31 450.44,1685.78 450.71,1687.26 450.97,1688.74 451.23,1690.22 451.49,1691.7 451.75,1693.19 452.01,1694.67 452.27,1696.16 452.52,1697.65 452.78,1699.14 453.04,1700.63 453.3,1702.13 453.56,1703.63 453.82,1705.12 454.08,1706.62 454.35,1708.13 454.62,1709.63 454.89,1711.14 455.16,1712.64 455.44,1714.16 455.72,1715.67 456.01,1717.18 456.3,1718.7 456.59,1720.22 456.9,1721.73 457.21,1723.25 457.53,1724.77 457.86,1726.27 458.21,1727.77 458.59,1729.26 458.98,1730.74 459.39,1732.2 459.83,1733.65 460.3,1735.07 460.81,1736.48 461.34,1737.86 461.91,1739.21 462.52,1740.54 463.17,1741.83 463.87,1743.09 464.6,1744.32 465.39,1745.52 466.21,1746.68 467.07,1747.8 467.98,1748.89 468.92,1749.95 469.9,1750.97 470.91,1751.96 471.96,1752.91 473.05,1753.82 474.16,1754.7 475.31,1755.54 476.49,1756.35 477.69,1757.12 478.93,1757.85 480.19,1758.55 481.47,1759.21 482.78,1759.84 484.11,1760.43 485.47,1761 486.84,1761.53 488.24,1762.04 489.65,1762.52 491.08,1762.98 492.52,1763.41 493.98,1763.82 495.45,1764.22 496.94,1764.59 498.43,1764.94 499.94,1765.28 501.45,1765.6 502.98,1765.91 504.5,1766.21 506.04,1766.49 507.57,1766.77 509.11,1767.04 510.65,1767.3 512.19,1767.56 513.73,1767.82 515.27,1768.07 516.81,1768.32 518.34,1768.58 519.86,1768.83 521.38,1769.09 522.9,1769.35 524.41,1769.61 525.91,1769.87 527.41,1770.14 528.91,1770.4 530.4,1770.67 531.89,1770.93 533.38,1771.2 534.86,1771.47 536.34,1771.74 537.81,1772.01 539.29,1772.28 540.76,1772.55 542.22,1772.82 543.69,1773.09 545.15,1773.35 546.61,1773.62 548.07,1773.89 549.53,1774.16 550.99,1774.43 552.45,1774.69 553.9,1774.96 555.36,1775.22 556.81,1775.49 558.26,1775.75 559.72,1776.01 561.17,1776.27 562.62,1776.53 564.08,1776.78 565.53,1777.04 566.99,1777.29 568.45,1777.54 569.9,1777.78 571.36,1778.03 572.83,1778.27 574.29,1778.51 575.75,1778.74 577.22,1778.98 578.69,1779.21 580.16,1779.44 581.63,1779.66 583.11,1779.89 584.59,1780.11 586.06,1780.33 587.54,1780.55 589.02,1780.77 590.51,1780.99 591.99,1781.21 593.47,1781.44 594.96,1781.66 596.44,1781.88 597.93,1782.11 599.41,1782.34 600.9,1782.57 602.38,1782.8 603.87,1783.04 605.36,1783.27 606.84,1783.52 608.32,1783.77 609.81,1784.02 611.29,1784.28 612.77,1784.54 614.25,1784.81 615.73,1785.08 617.21,1785.36 618.69,1785.65 620.16,1785.94 621.64,1786.24 623.11,1786.55 624.58,1786.87 626.04,1787.2 627.51,1787.53 628.97,1787.88 630.43,1788.23 631.89,1788.59 633.34,1788.97 634.79,1789.35 636.24,1789.74 637.69,1790.15 639.13,1790.57 640.56,1791 642,1791.44 643.43,1791.89 644.85,1792.36 646.28,1792.84 647.69,1793.34 649.11,1793.84 650.52,1794.37 651.92,1794.91 653.32,1795.46 654.72,1796.02 656.11,1796.6 657.49,1797.19 658.88,1797.79 660.26,1798.4 661.64,1799.01 663.01,1799.64 664.39,1800.27 665.76,1800.9 667.13,1801.54 668.5,1802.18 669.86,1802.82 671.23,1803.46 672.6,1804.1 673.96,1804.74 675.33,1805.38 676.7,1806.01 678.06,1806.64 679.43,1807.26 680.8,1807.87 682.17,1808.48 683.54,1809.07 684.92,1809.66 686.3,1810.23 687.68,1810.79 689.06,1811.34 690.45,1811.87 691.84,1812.39 693.23,1812.89 694.63,1813.37 696.04,1813.83 697.45,1814.27 698.86,1814.69 700.28,1815.09 701.7,1815.46 703.13,1815.81 704.57,1816.13 706.01,1816.43 707.47,1816.7 708.92,1816.94 710.39,1817.15 711.86,1817.35 713.33,1817.51 714.81,1817.66 716.3,1817.79 717.79,1817.89 719.28,1817.98 720.78,1818.05 722.28,1818.1 723.78,1818.14 725.29,1818.17 726.8,1818.18 728.32,1818.18 729.83,1818.17 731.35,1818.15 732.87,1818.13 734.38,1818.09 735.9,1818.05 737.42,1818.01 738.94,1817.96 740.46,1817.91 741.98,1817.86 743.5,1817.81 745.02,1817.76 746.53,1817.72 748.05,1817.67 749.56,1817.63 751.07,1817.59 752.58,1817.55 754.09,1817.52 755.6,1817.49 757.1,1817.45 758.61,1817.42 760.11,1817.4 761.61,1817.37 763.11,1817.35 764.61,1817.32 766.11,1817.3 767.61,1817.28 769.11,1817.26 770.61,1817.24 772.1,1817.23 773.6,1817.21 775.09,1817.2 776.59,1817.18 778.08,1817.17 779.57,1817.16 781.07,1817.15 782.56,1817.14 784.05,1817.13 785.54,1817.12 787.03,1817.11 788.52,1817.1 790.02,1817.09 791.51,1817.08 793,1817.07 794.49,1817.06 795.98,1817.06 797.47,1817.05 798.96,1817.04 800.45,1817.03 801.95,1817.02 803.44,1817.01 804.93,1817 806.42,1816.98 807.92,1816.97 809.41,1816.96 810.91,1816.94 812.4,1816.93 813.9,1816.91 815.39,1816.9 816.89,1816.88 818.39,1816.86 819.89,1816.84 821.38,1816.82 822.88,1816.8 824.38,1816.78 825.88,1816.76 827.38,1816.73 828.88,1816.71 830.38,1816.69 831.89,1816.66 833.39,1816.64 834.89,1816.61 836.39,1816.59 837.89,1816.56 839.4,1816.53 840.9,1816.51 842.4,1816.48 843.91,1816.45 845.41,1816.43 846.91,1816.4 848.42,1816.37 849.92,1816.35 851.42,1816.32 852.93,1816.29 854.43,1816.26 855.94,1816.24 857.44,1816.21 858.94,1816.18 860.45,1816.16 861.95,1816.13 863.45,1816.1 864.96,1816.08 866.46,1816.05 867.96,1816.03 869.46,1816 870.97,1815.98 872.47,1815.95 873.97,1815.93 875.47,1815.91 876.97,1815.88 878.47,1815.86 879.97,1815.84 881.47,1815.82 882.97,1815.8 884.47,1815.78 885.97,1815.76 887.47,1815.75 888.96,1815.73 890.46,1815.72 891.96,1815.7 893.45,1815.69 894.95,1815.68 896.44,1815.66 897.94,1815.65 899.43,1815.64 900.92,1815.64 902.41,1815.63 903.9,1815.62 905.39,1815.62" stroke="#0000ff" stroke-width="1.5" fill="none" stroke-dasharray="19 4"/>
<path d="M129.79,1263.67 131.33,1263.67 132.87,1263.7 134.4,1263.74 135.92,1263.81 137.44,1263.89 138.95,1264 140.45,1264.12 141.96,1264.27 143.45,1264.43 144.94,1264.61 146.43,1264.81 147.91,1265.03 149.39,1265.26 150.86,1265.51 152.33,1265.78 153.79,1266.07 155.25,1266.37 156.7,1266.69 158.15,1267.02 159.59,1267.37 161.03,1267.73 162.47,1268.11 163.9,1268.51 165.33,1268.92 166.75,1269.34 168.17,1269.78 169.58,1270.23 170.99,1270.69 172.4,1271.17 173.8,1271.66 175.2,1272.16 176.6,1272.67 177.99,1273.2 179.38,1273.74 180.77,1274.29 182.15,1274.85 183.53,1275.42 184.9,1276 186.28,1276.59 187.65,1277.19 189.01,1277.8 190.38,1278.42 191.74,1279.05 193.09,1279.69 194.45,1280.33 195.8,1280.99 197.15,1281.65 198.5,1282.32 199.84,1283 201.18,1283.68 202.52,1284.37 203.86,1285.07 205.19,1285.77 206.52,1286.48 207.85,1287.19 209.18,1287.91 210.51,1288.64 211.83,1289.37 213.15,1290.1 214.47,1290.84 215.79,1291.58 217.11,1292.33 218.42,1293.07 219.74,1293.83 221.05,1294.58 222.36,1295.34 223.67,1296.1 224.98,1296.86 226.28,1297.62 227.59,1298.38 228.89,1299.15 230.19,1299.91 231.5,1300.68 232.8,1301.44 234.1,1302.21 235.4,1302.97 236.69,1303.74 237.99,1304.5 239.29,1305.26 240.59,1306.02 241.88,1306.78 243.18,1307.54 244.47,1308.3 245.77,1309.06 247.06,1309.81 248.35,1310.57 249.64,1311.32 250.94,1312.08 252.23,1312.83 253.52,1313.59 254.81,1314.34 256.1,1315.09 257.39,1315.84 258.68,1316.59 259.97,1317.35 261.25,1318.1 262.54,1318.85 263.83,1319.6 265.11,1320.35 266.4,1321.1 267.69,1321.86 268.97,1322.61 270.26,1323.36 271.54,1324.11 272.83,1324.86 274.11,1325.62 275.4,1326.37 276.68,1327.13 277.96,1327.88 279.25,1328.64 280.53,1329.39 281.81,1330.15 283.09,1330.91 284.38,1331.66 285.66,1332.42 286.94,1333.18 288.22,1333.95 289.5,1334.71 290.78,1335.47 292.07,1336.24 293.35,1337 294.63,1337.77 295.91,1338.54 297.19,1339.31 298.47,1340.08 299.75,1340.85 301.03,1341.63 302.31,1342.41 303.6,1343.18 304.88,1343.96 306.16,1344.75 307.44,1345.53 308.72,1346.31 310,1347.1 311.28,1347.89 312.56,1348.68 313.84,1349.48 315.13,1350.27 316.41,1351.07 317.69,1351.87 318.97,1352.68 320.25,1353.49 321.53,1354.3 322.8,1355.11 324.08,1355.93 325.35,1356.75 326.62,1357.58 327.88,1358.41 329.15,1359.24 330.41,1360.08 331.66,1360.93 332.91,1361.78 334.15,1362.64 335.39,1363.51 336.62,1364.38 337.85,1365.25 339.07,1366.14 340.28,1367.03 341.49,1367.93 342.68,1368.84 343.87,1369.76 345.05,1370.68 346.22,1371.61 347.39,1372.56 348.54,1373.51 349.68,1374.47 350.81,1375.44 351.93,1376.42 353.04,1377.41 354.14,1378.41 355.23,1379.42 356.3,1380.45 357.36,1381.48 358.41,1382.53 359.44,1383.59 360.46,1384.66 361.47,1385.74 362.46,1386.84 363.44,1387.94 364.4,1389.07 365.34,1390.2 366.27,1391.35 367.18,1392.51 368.08,1393.69 368.95,1394.88 369.81,1396.09 370.66,1397.31 371.48,1398.55 372.29,1399.79 373.09,1401.05 373.87,1402.33 374.63,1403.61 375.38,1404.91 376.12,1406.21 376.85,1407.53 377.56,1408.85 378.26,1410.19 378.95,1411.53 379.63,1412.88 380.3,1414.23 380.96,1415.59 381.62,1416.96 382.26,1418.34 382.9,1419.71 383.53,1421.1 384.15,1422.48 384.77,1423.87 385.38,1425.26 385.99,1426.66 386.59,1428.05 387.19,1429.45 387.79,1430.84 388.38,1432.24 388.97,1433.63 389.56,1435.03 390.15,1436.42 390.73,1437.82 391.31,1439.21 391.89,1440.61 392.46,1442.01 393.03,1443.4 393.59,1444.8 394.15,1446.2 394.71,1447.59 395.27,1448.99 395.82,1450.39 396.36,1451.79 396.91,1453.19 397.44,1454.59 397.98,1455.99 398.51,1457.39 399.03,1458.79 399.55,1460.2 400.07,1461.6 400.58,1463.01 401.09,1464.41 401.59,1465.82 402.09,1467.23 402.58,1468.64 403.07,1470.05 403.55,1471.46 404.03,1472.87 404.5,1474.28 404.96,1475.7 405.42,1477.12 405.88,1478.53 406.33,1479.95 406.77,1481.37 407.21,1482.8 407.64,1484.22 408.07,1485.65 408.49,1487.07 408.9,1488.5 409.31,1489.93 409.71,1491.37 410.1,1492.8 410.49,1494.24 410.87,1495.68 411.24,1497.12 411.61,1498.56 411.97,1500 412.33,1501.45 412.67,1502.9 413.01,1504.35 413.34,1505.81 413.67,1507.26 413.99,1508.72 414.3,1510.18 414.61,1511.64 414.91,1513.1 415.21,1514.57 415.5,1516.03 415.79,1517.5 416.07,1518.97 416.34,1520.44 416.61,1521.91 416.88,1523.39 417.14,1524.86 417.4,1526.34 417.66,1527.82 417.91,1529.3 418.15,1530.78 418.4,1532.26 418.64,1533.74 418.87,1535.22 419.11,1536.71 419.34,1538.19 419.57,1539.68 419.8,1541.16 420.02,1542.65 420.25,1544.14 420.47,1545.62 420.69,1547.11 420.91,1548.6 421.13,1550.09 421.34,1551.58 421.56,1553.07 421.78,1554.56 421.99,1556.05 422.21,1557.53 422.42,1559.02 422.64,1560.51 422.85,1562 423.07,1563.49 423.28,1564.98 423.49,1566.47 423.71,1567.96 423.92,1569.45 424.13,1570.94 424.35,1572.43 424.56,1573.92 424.77,1575.41 424.99,1576.9 425.2,1578.39 425.41,1579.88 425.63,1581.37 425.84,1582.86 426.06,1584.34 426.27,1585.83 426.49,1587.32 426.7,1588.81 426.92,1590.3 427.14,1591.78 427.35,1593.27 427.57,1594.76 427.79,1596.25 428.01,1597.73 428.23,1599.22 428.45,1600.7 428.67,1602.19 428.89,1603.68 429.11,1605.16 429.33,1606.64 429.56,1608.13 429.78,1609.61 430.01,1611.1 430.23,1612.58 430.46,1614.06 430.69,1615.54 430.92,1617.02 431.15,1618.5 431.38,1619.98 431.62,1621.46 431.85,1622.94 432.09,1624.42 432.32,1625.9 432.56,1627.38 432.8,1628.85 433.04,1630.33 433.28,1631.81 433.53,1633.28 433.77,1634.76 434.02,1636.23 434.27,1637.7 434.52,1639.17 434.77,1640.65 435.03,1642.12 435.28,1643.59 435.54,1645.06 435.8,1646.52 436.06,1647.99 436.32,1649.46 436.58,1650.93 436.85,1652.39 437.12,1653.86 437.39,1655.32 437.66,1656.78 437.93,1658.25 438.21,1659.71 438.48,1661.17 438.76,1662.63 439.04,1664.09 439.32,1665.56 439.6,1667.02 439.88,1668.48 440.16,1669.94 440.44,1671.4 440.72,1672.87 441,1674.33 441.28,1675.79 441.57,1677.26 441.85,1678.72 442.13,1680.19 442.41,1681.66 442.69,1683.12 442.97,1684.59 443.25,1686.06 443.53,1687.53 443.81,1689 444.09,1690.48 444.36,1691.95 444.64,1693.43 444.91,1694.91 445.18,1696.39 445.46,1697.87 445.72,1699.35 445.99,1700.84 446.26,1702.33 446.52,1703.82 446.78,1705.31 447.04,1706.8 447.3,1708.3 447.55,1709.8 447.81,1711.3 448.06,1712.81 448.3,1714.31 448.55,1715.82 448.79,1717.34 449.02,1718.85 449.26,1720.37 449.49,1721.9 449.72,1723.42 449.94,1724.95 450.16,1726.48 450.38,1728.02 450.59,1729.56 450.8,1731.1 451.01,1732.64 451.23,1734.18 451.45,1735.72 451.69,1737.25 451.95,1738.77 452.22,1740.28 452.52,1741.77 452.85,1743.25 453.21,1744.71 453.6,1746.15 454.04,1747.56 454.52,1748.95 455.05,1750.31 455.63,1751.63 456.26,1752.93 456.95,1754.18 457.68,1755.41 458.48,1756.59 459.32,1757.73 460.21,1758.84 461.16,1759.9 462.16,1760.91 463.21,1761.88 464.3,1762.81 465.43,1763.69 466.6,1764.54 467.8,1765.35 469.02,1766.13 470.26,1766.89 471.52,1767.61 472.79,1768.31 474.07,1768.98 475.37,1769.62 476.68,1770.24 478,1770.84 479.34,1771.41 480.69,1771.96 482.04,1772.49 483.42,1773 484.8,1773.48 486.19,1773.95 487.59,1774.39 489,1774.82 490.42,1775.23 491.85,1775.62 493.29,1775.99 494.74,1776.35 496.2,1776.69 497.66,1777.01 499.13,1777.32 500.61,1777.61 502.09,1777.9 503.58,1778.17 505.08,1778.42 506.58,1778.67 508.09,1778.9 509.6,1779.13 511.11,1779.34 512.63,1779.55 514.15,1779.74 515.68,1779.93 517.21,1780.12 518.74,1780.29 520.27,1780.46 521.81,1780.63 523.34,1780.78 524.88,1780.94 526.42,1781.09 527.95,1781.24 529.49,1781.39 531.03,1781.53 532.57,1781.68 534.1,1781.82 535.63,1781.97 537.16,1782.11 538.69,1782.26 540.22,1782.41 541.74,1782.56 543.26,1782.72 544.78,1782.88 546.29,1783.05 547.79,1783.22 549.3,1783.39 550.79,1783.57 552.29,1783.76 553.77,1783.95 555.26,1784.15 556.74,1784.35 558.21,1784.56 559.69,1784.77 561.16,1784.98 562.63,1785.2 564.09,1785.42 565.55,1785.64 567.01,1785.87 568.47,1786.1 569.93,1786.33 571.38,1786.56 572.84,1786.79 574.29,1787.03 575.74,1787.26 577.19,1787.5 578.65,1787.74 580.1,1787.98 581.55,1788.21 583,1788.45 584.45,1788.69 585.9,1788.92 587.36,1789.16 588.81,1789.39 590.27,1789.62 591.72,1789.85 593.18,1790.08 594.65,1790.3 596.11,1790.53 597.58,1790.74 599.05,1790.96 600.52,1791.17 602,1791.38 603.48,1791.58 604.96,1791.78 606.45,1791.98 607.94,1792.17 609.43,1792.36 610.93,1792.54 612.43,1792.73 613.93,1792.91 615.43,1793.1 616.94,1793.28 618.44,1793.47 619.94,1793.67 621.45,1793.86 622.95,1794.07 624.45,1794.28 625.95,1794.5 627.45,1794.72 628.95,1794.96 630.44,1795.21 631.93,1795.46 633.41,1795.74 634.89,1796.02 636.36,1796.32 637.83,1796.63 639.3,1796.96 640.76,1797.3 642.21,1797.66 643.67,1798.02 645.11,1798.39 646.56,1798.78 648,1799.17 649.44,1799.57 650.88,1799.97 652.32,1800.38 653.75,1800.79 655.19,1801.21 656.62,1801.63 658.06,1802.05 659.49,1802.47 660.92,1802.89 662.36,1803.31 663.79,1803.73 665.23,1804.14 666.67,1804.55 668.11,1804.95 669.55,1805.35 671,1805.74 672.45,1806.13 673.89,1806.51 675.35,1806.89 676.8,1807.26 678.25,1807.62 679.71,1807.98 681.17,1808.33 682.63,1808.67 684.09,1809.01 685.55,1809.34 687.02,1809.66 688.48,1809.98 689.95,1810.29 691.42,1810.6 692.89,1810.89 694.37,1811.18 695.84,1811.47 697.31,1811.74 698.79,1812.01 700.27,1812.27 701.75,1812.53 703.23,1812.77 704.71,1813.01 706.19,1813.24 707.67,1813.46 709.15,1813.68 710.64,1813.89 712.12,1814.09 713.61,1814.28 715.1,1814.46 716.58,1814.63 718.07,1814.8 719.56,1814.96 721.05,1815.11 722.54,1815.25 724.03,1815.39 725.52,1815.52 727.02,1815.64 728.51,1815.76 730,1815.87 731.5,1815.97 732.99,1816.07 734.49,1816.16 735.98,1816.25 737.48,1816.33 738.97,1816.41 740.47,1816.48 741.97,1816.55 743.46,1816.61 744.96,1816.67 746.46,1816.72 747.96,1816.77 749.46,1816.81 750.96,1816.85 752.46,1816.89 753.95,1816.93 755.45,1816.96 756.95,1816.99 758.45,1817.02 759.96,1817.04 761.46,1817.06 762.96,1817.08 764.46,1817.1 765.96,1817.11 767.46,1817.13 768.96,1817.14 770.46,1817.15 771.96,1817.17 773.46,1817.18 774.96,1817.19 776.46,1817.2 777.97,1817.2 779.47,1817.21 780.97,1817.22 782.47,1817.23 783.97,1817.24 785.47,1817.25 786.97,1817.27 788.47,1817.28 789.97,1817.29 791.47,1817.3 792.97,1817.31 794.47,1817.32 795.97,1817.34 797.47,1817.35 798.97,1817.36 800.47,1817.37 801.96,1817.39 803.46,1817.4 804.96,1817.41 806.46,1817.43 807.96,1817.44 809.46,1817.45 810.96,1817.46 812.46,1817.48 813.96,1817.49 815.45,1817.5 816.95,1817.52 818.45,1817.53 819.95,1817.54 821.45,1817.56 822.95,1817.57 824.45,1817.58 825.94,1817.59 827.44,1817.61 828.94,1817.62 830.44,1817.63 831.94,1817.64 833.44,1817.65 834.94,1817.67 836.43,1817.68 837.93,1817.69 839.43,1817.7 840.93,1817.71 842.43,1817.72 843.93,1817.73 845.42,1817.74 846.92,1817.75 848.42,1817.76 849.92,1817.77 851.42,1817.77 852.92,1817.78 854.41,1817.79 855.91,1817.8 857.41,1817.8 858.91,1817.81 860.41,1817.81 861.91,1817.82 863.41,1817.82 864.9,1817.83 866.4,1817.83 867.9,1817.83 869.4,1817.84 870.9,1817.84 872.4,1817.84 873.9,1817.84 875.4,1817.84 876.9,1817.84 878.4,1817.84 879.9,1817.84 881.4,1817.83 882.9,1817.83 884.39,1817.83 885.89,1817.82 887.39,1817.82 888.89,1817.81 890.39,1817.8 891.89,1817.8 893.4,1817.79 894.9,1817.78 896.4,1817.77 897.9,1817.76 899.4,1817.74 900.9,1817.73 902.4,1817.72 903.9,1817.7 905.4,1817.69" stroke="#ff00ff" stroke-width="1.5" fill="none" stroke-dasharray="30.5 3.3 1.2 3.3"/>
<rect x="791.5" y="1261.5" width="117.9" height="73.7" fill="#fff" stroke="#6a6a6a" stroke-width="1.6"/>
<path d="M799.5,1275.9H853.9" stroke="#555" stroke-width="1.5" stroke-opacity="0.75"/>
<text x="866.2" y="1279.6" class="lg" style="fill:#333">SPS</text>
<path d="M799.5,1291.7H841.8" stroke="#ff0000" stroke-width="1.5" stroke-opacity="0.75" stroke-dasharray="7.6 3.8"/>
<text x="866.2" y="1295.4" class="lg" style="fill:#ff2020">GS15</text>
<path d="M799.5,1307.5H845.9" stroke="#0000ff" stroke-width="1.5" stroke-opacity="0.75" stroke-dasharray="15.4 3.8"/>
<text x="866.2" y="1311.2" class="lg" style="fill:#2020ff">GS30</text>
<path d="M799.5,1323.3H845.1" stroke="#ff00ff" stroke-width="1.5" stroke-opacity="0.75" stroke-dasharray="38.7 5.5 1.2 5.5"/>
<text x="866.2" y="1327" class="lg" style="fill:#ff20ff">GS45</text>
<text transform="translate(716.2,1330.2) scale(0.88,1)" class="big" style="font-size:34px">C</text>
<path d="M441.7,1346.1L408.3,1352.6" stroke="#000" stroke-width="2.2"/><path d="M397.5,1354.7L409.08,1346.13L411.44,1358.3Z" fill="#000"/>
<path d="M450.3,1389.8L415.98,1391.62" stroke="#000" stroke-width="2.2"/><path d="M405,1392.2L417.65,1385.32L418.31,1397.7Z" fill="#000"/>
<path d="M450.3,1445.9L416,1446.66" stroke="#000" stroke-width="2.2"/><path d="M405,1446.9L417.86,1440.41L418.13,1452.81Z" fill="#000"/>
<path d="M461.6,1507.8L425.36,1511.03" stroke="#000" stroke-width="2.2"/><path d="M414.4,1512L426.8,1504.67L427.9,1517.02Z" fill="#000"/>
<text x="458.9" y="1350.6" class="an" textLength="25.5" lengthAdjust="spacingAndGlyphs">SPS</text>
<text x="478.1" y="1390.9" class="an" textLength="36" lengthAdjust="spacingAndGlyphs">GS15</text>
<text x="478.1" y="1451.1" class="an" textLength="36" lengthAdjust="spacingAndGlyphs">GS30</text>
<text x="493.3" y="1516.7" class="an" textLength="35.1" lengthAdjust="spacingAndGlyphs">GS45</text>
</svg></body></html>
